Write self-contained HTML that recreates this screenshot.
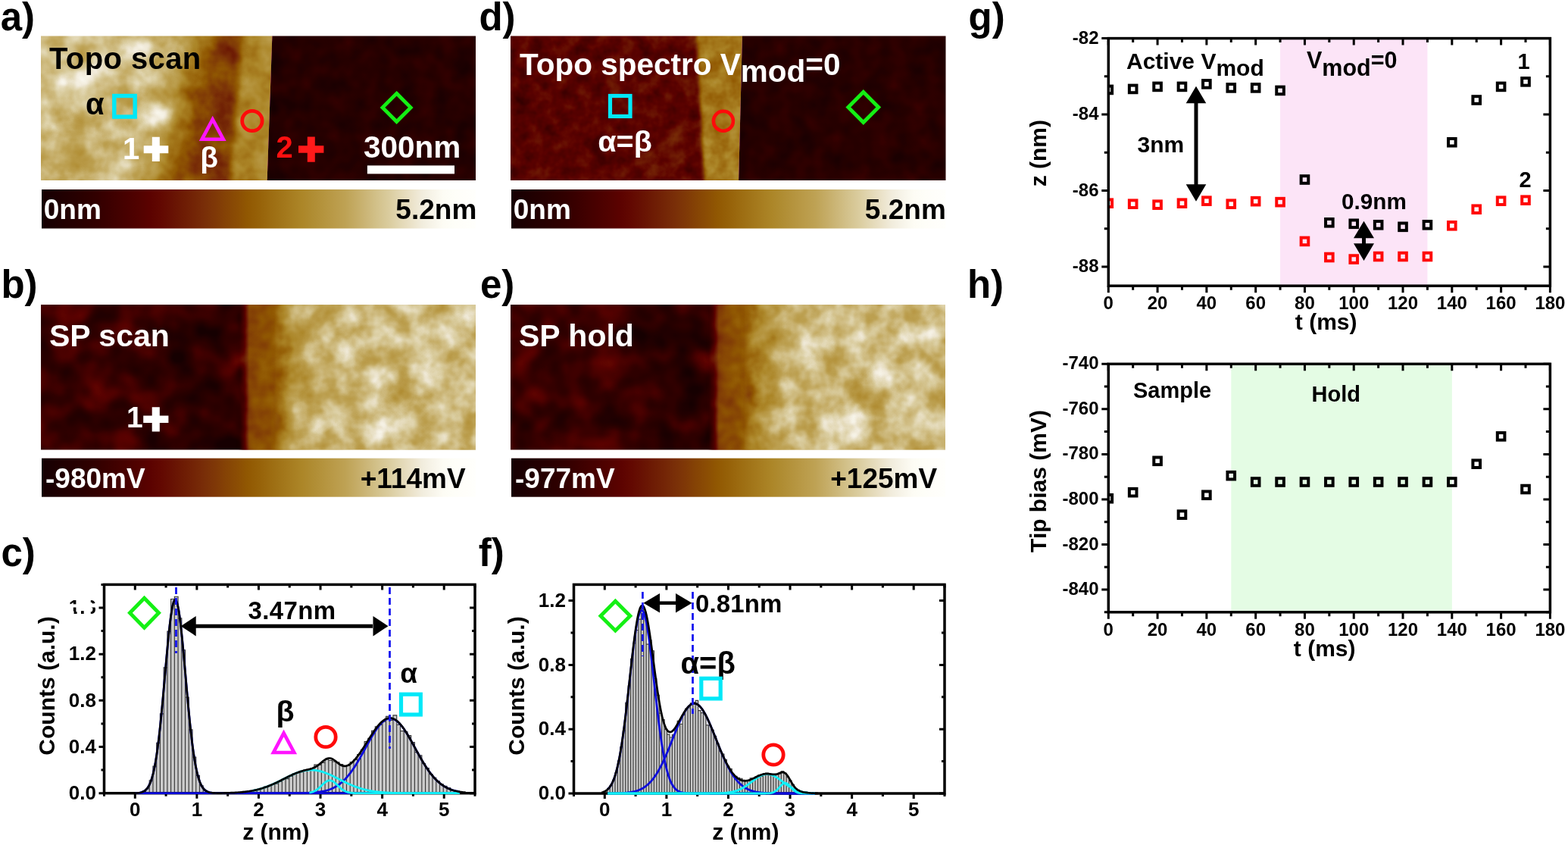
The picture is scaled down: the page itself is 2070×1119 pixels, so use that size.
<!DOCTYPE html>
<html><head><meta charset="utf-8"><title>Figure</title>
<style>html,body{margin:0;padding:0;background:#fff;width:2070px;height:1119px;overflow:hidden}
svg{position:absolute;left:0;top:0;display:block}</style></head>
<body><svg width="2070" height="1119" viewBox="0 0 2070 1119" font-family="'Liberation Sans', Arial, sans-serif" font-weight="bold">
<defs><linearGradient id="cbar" x1="0" y1="0" x2="1" y2="0"><stop offset="0.000" stop-color="#160002"/><stop offset="0.025" stop-color="#1b0002"/><stop offset="0.050" stop-color="#210001"/><stop offset="0.075" stop-color="#260001"/><stop offset="0.100" stop-color="#2c0000"/><stop offset="0.125" stop-color="#320000"/><stop offset="0.150" stop-color="#3a0000"/><stop offset="0.175" stop-color="#420100"/><stop offset="0.200" stop-color="#4a0100"/><stop offset="0.225" stop-color="#520200"/><stop offset="0.250" stop-color="#5b0200"/><stop offset="0.275" stop-color="#620801"/><stop offset="0.300" stop-color="#671103"/><stop offset="0.325" stop-color="#6d1b04"/><stop offset="0.350" stop-color="#732406"/><stop offset="0.375" stop-color="#792e08"/><stop offset="0.400" stop-color="#7f3807"/><stop offset="0.425" stop-color="#854305"/><stop offset="0.450" stop-color="#8b4d04"/><stop offset="0.475" stop-color="#915802"/><stop offset="0.500" stop-color="#966108"/><stop offset="0.525" stop-color="#9c6b10"/><stop offset="0.550" stop-color="#a17418"/><stop offset="0.575" stop-color="#a77d20"/><stop offset="0.600" stop-color="#ac8628"/><stop offset="0.625" stop-color="#b08d33"/><stop offset="0.650" stop-color="#b5943e"/><stop offset="0.675" stop-color="#ba9b49"/><stop offset="0.700" stop-color="#bea254"/><stop offset="0.725" stop-color="#c5ac66"/><stop offset="0.750" stop-color="#ccb779"/><stop offset="0.775" stop-color="#d3c28c"/><stop offset="0.800" stop-color="#dacc9e"/><stop offset="0.825" stop-color="#e2d7b3"/><stop offset="0.850" stop-color="#eae1c7"/><stop offset="0.875" stop-color="#f1ecdc"/><stop offset="0.900" stop-color="#f7f4e9"/><stop offset="0.925" stop-color="#fdfcf4"/><stop offset="0.950" stop-color="#fefef8"/><stop offset="0.975" stop-color="#fffefa"/><stop offset="1.000" stop-color="#fffffc"/></linearGradient>
<clipPath id="cla"><rect x="54.00" y="47.50" width="574.00" height="190.50"/></clipPath>
<linearGradient id="lg1" gradientUnits="userSpaceOnUse" x1="54.00" y1="142.75" x2="588.20" y2="288.57"><stop offset="0.0000" stop-color="#c1c1c1"/><stop offset="0.1916" stop-color="#c1c1c1"/><stop offset="0.2700" stop-color="#bbbbbb"/><stop offset="0.3049" stop-color="#a3a3a3"/><stop offset="0.3310" stop-color="#878787"/><stop offset="0.3571" stop-color="#737373"/><stop offset="0.3920" stop-color="#696969"/><stop offset="0.5226" stop-color="#666666"/></linearGradient>
<filter id="bl5_0" x="-30%" y="-30%" width="160%" height="160%" color-interpolation-filters="sRGB"><feGaussianBlur stdDeviation="5.0"/></filter>
<filter id="bl7_0" x="-30%" y="-30%" width="160%" height="160%" color-interpolation-filters="sRGB"><feGaussianBlur stdDeviation="7.0"/></filter>
<linearGradient id="lg2" gradientUnits="userSpaceOnUse" x1="54.00" y1="142.75" x2="627.23" y2="163.81"><stop offset="0.5192" stop-color="#0d0d0d"/><stop offset="0.5331" stop-color="#0d0d0d"/><stop offset="0.5540" stop-color="#131313"/><stop offset="1.0000" stop-color="#141414"/></linearGradient>
<g id="srca"><rect x="50.00" y="43.50" width="582.00" height="198.50" fill="#000"/><polygon points="50.00,43.50 632.00,43.50 632.00,242.00 50.00,242.00" fill="url(#lg1)"/><polygon points="320.00,43.50 384.00,43.50 377.00,242.00 305.00,242.00" fill="#9c9c9c" filter="url(#bl5_0)"/><g filter="url(#bl7_0)"><ellipse cx="99.0" cy="107.5" rx="26.0" ry="17.0" fill="#fff" fill-opacity="0.45"/><ellipse cx="139.0" cy="85.5" rx="20.0" ry="10.0" fill="#fff" fill-opacity="0.28"/><ellipse cx="212.0" cy="151.5" rx="15.0" ry="14.0" fill="#fff" fill-opacity="0.85"/><ellipse cx="179.0" cy="61.5" rx="28.0" ry="10.0" fill="#fff" fill-opacity="0.35"/><ellipse cx="62.0" cy="147.5" rx="7.0" ry="25.0" fill="#fff" fill-opacity="0.20"/><ellipse cx="154.0" cy="173.5" rx="18.0" ry="8.0" fill="#fff" fill-opacity="0.18"/><ellipse cx="114.0" cy="142.5" rx="14.0" ry="10.0" fill="#fff" fill-opacity="0.20"/><ellipse cx="94.0" cy="202.5" rx="45.0" ry="32.0" fill="#000" fill-opacity="0.07"/><ellipse cx="166.0" cy="139.5" rx="16.0" ry="22.0" fill="#000" fill-opacity="0.05"/><ellipse cx="294.0" cy="147.5" rx="12.0" ry="20.0" fill="#000" fill-opacity="0.10"/><ellipse cx="276.0" cy="225.5" rx="20.0" ry="14.0" fill="#000" fill-opacity="0.10"/></g><polygon points="359.50,43.50 632.00,43.50 632.00,242.00 352.50,242.00" fill="url(#lg2)"/></g>
<filter id="fa0" x="50.00" y="43.50" width="582.00" height="198.50" filterUnits="userSpaceOnUse" color-interpolation-filters="sRGB"><feTurbulence type="fractalNoise" baseFrequency="0.0350" numOctaves="3" seed="3" result="n"/><feColorMatrix in="n" type="matrix" values="1 0 0 0 0  1 0 0 0 0  1 0 0 0 0  0 0 0 0 1" result="g"/><feComposite in="SourceGraphic" in2="g" operator="arithmetic" k1="0" k2="1" k3="0.260" k4="-0.130" result="hh"/><feComponentTransfer in="hh"><feFuncR type="table" tableValues="0.0863 0.1075 0.1288 0.1500 0.1712 0.1947 0.2269 0.2591 0.2913 0.3235 0.3557 0.3824 0.4052 0.4281 0.4510 0.4739 0.4973 0.5208 0.5443 0.5678 0.5895 0.6108 0.6320 0.6533 0.6745 0.6922 0.7098 0.7275 0.7451 0.7725 0.8000 0.8275 0.8549 0.8855 0.9162 0.9468 0.9702 0.9918 0.9972 0.9986 1.0000"/><feFuncG type="table" tableValues="0.0000 0.0000 0.0000 0.0000 0.0000 0.0003 0.0017 0.0031 0.0045 0.0059 0.0073 0.0304 0.0680 0.1056 0.1431 0.1807 0.2212 0.2624 0.3035 0.3447 0.3817 0.4176 0.4536 0.4895 0.5255 0.5529 0.5804 0.6078 0.6353 0.6765 0.7176 0.7588 0.8000 0.8417 0.8833 0.9250 0.9569 0.9863 0.9944 0.9972 1.0000"/><feFuncB type="table" tableValues="0.0078 0.0062 0.0046 0.0029 0.0013 0.0000 0.0000 0.0000 0.0000 0.0000 0.0000 0.0039 0.0105 0.0170 0.0235 0.0301 0.0267 0.0208 0.0149 0.0090 0.0327 0.0637 0.0948 0.1258 0.1569 0.2000 0.2431 0.2863 0.3294 0.4020 0.4745 0.5471 0.6196 0.7005 0.7814 0.8623 0.9129 0.9561 0.9714 0.9798 0.9882"/><feFuncA type="linear" slope="0" intercept="1"/></feComponentTransfer></filter>
<clipPath id="ca0"><polygon points="50.00,43.50 359.50,43.50 352.50,242.00 50.00,242.00"/></clipPath>
<filter id="fa1" x="50.00" y="43.50" width="582.00" height="198.50" filterUnits="userSpaceOnUse" color-interpolation-filters="sRGB"><feTurbulence type="fractalNoise" baseFrequency="0.0400" numOctaves="2" seed="4" result="n"/><feColorMatrix in="n" type="matrix" values="1 0 0 0 0  1 0 0 0 0  1 0 0 0 0  0 0 0 0 1" result="g"/><feComposite in="SourceGraphic" in2="g" operator="arithmetic" k1="0" k2="1" k3="0.180" k4="-0.090" result="hh"/><feComponentTransfer in="hh"><feFuncR type="table" tableValues="0.0863 0.1075 0.1288 0.1500 0.1712 0.1947 0.2269 0.2591 0.2913 0.3235 0.3557 0.3824 0.4052 0.4281 0.4510 0.4739 0.4973 0.5208 0.5443 0.5678 0.5895 0.6108 0.6320 0.6533 0.6745 0.6922 0.7098 0.7275 0.7451 0.7725 0.8000 0.8275 0.8549 0.8855 0.9162 0.9468 0.9702 0.9918 0.9972 0.9986 1.0000"/><feFuncG type="table" tableValues="0.0000 0.0000 0.0000 0.0000 0.0000 0.0003 0.0017 0.0031 0.0045 0.0059 0.0073 0.0304 0.0680 0.1056 0.1431 0.1807 0.2212 0.2624 0.3035 0.3447 0.3817 0.4176 0.4536 0.4895 0.5255 0.5529 0.5804 0.6078 0.6353 0.6765 0.7176 0.7588 0.8000 0.8417 0.8833 0.9250 0.9569 0.9863 0.9944 0.9972 1.0000"/><feFuncB type="table" tableValues="0.0078 0.0062 0.0046 0.0029 0.0013 0.0000 0.0000 0.0000 0.0000 0.0000 0.0000 0.0039 0.0105 0.0170 0.0235 0.0301 0.0267 0.0208 0.0149 0.0090 0.0327 0.0637 0.0948 0.1258 0.1569 0.2000 0.2431 0.2863 0.3294 0.4020 0.4745 0.5471 0.6196 0.7005 0.7814 0.8623 0.9129 0.9561 0.9714 0.9798 0.9882"/><feFuncA type="linear" slope="0" intercept="1"/></feComponentTransfer></filter>
<clipPath id="ca1"><polygon points="359.50,43.50 632.00,43.50 632.00,242.00 352.50,242.00"/></clipPath>
<clipPath id="cld"><rect x="674.00" y="47.50" width="574.50" height="190.50"/></clipPath>
<linearGradient id="lg3" gradientUnits="userSpaceOnUse" x1="674.00" y1="142.75" x2="1248.50" y2="142.75"><stop offset="0.0000" stop-color="#3b3b3b"/><stop offset="0.1741" stop-color="#3e3e3e"/><stop offset="0.3481" stop-color="#404040"/><stop offset="0.4178" stop-color="#404040"/><stop offset="0.5239" stop-color="#404040"/></linearGradient>
<filter id="bl2_5" x="-30%" y="-30%" width="160%" height="160%" color-interpolation-filters="sRGB"><feGaussianBlur stdDeviation="2.5"/></filter>
<filter id="bl4_0" x="-30%" y="-30%" width="160%" height="160%" color-interpolation-filters="sRGB"><feGaussianBlur stdDeviation="4.0"/></filter>
<linearGradient id="lg4" gradientUnits="userSpaceOnUse" x1="674.00" y1="142.75" x2="1248.10" y2="157.82"><stop offset="0.5222" stop-color="#0d0d0d"/><stop offset="0.5361" stop-color="#0d0d0d"/><stop offset="0.5535" stop-color="#141414"/><stop offset="0.9991" stop-color="#161616"/></linearGradient>
<g id="srcd"><rect x="670.00" y="43.50" width="582.50" height="198.50" fill="#000"/><polygon points="670.00,43.50 1252.50,43.50 1252.50,242.00 670.00,242.00" fill="url(#lg3)"/><g filter="url(#bl7_0)"><ellipse cx="734.0" cy="87.5" rx="20.0" ry="15.0" fill="#000" fill-opacity="0.05"/><ellipse cx="834.0" cy="127.5" rx="25.0" ry="20.0" fill="#fff" fill-opacity="0.04"/><ellipse cx="784.0" cy="197.5" rx="25.0" ry="15.0" fill="#000" fill-opacity="0.04"/><ellipse cx="864.0" cy="212.5" rx="25.0" ry="20.0" fill="#fff" fill-opacity="0.08"/><ellipse cx="899.0" cy="187.5" rx="15.0" ry="25.0" fill="#fff" fill-opacity="0.08"/></g><polygon points="919.00,43.50 1004.00,43.50 1004.00,242.00 930.00,242.00" fill="#8e8e8e" filter="url(#bl2_5)"/><g filter="url(#bl4_0)"><ellipse cx="936.0" cy="217.5" rx="8.0" ry="12.0" fill="#fff" fill-opacity="0.12"/><ellipse cx="949.0" cy="87.5" rx="15.0" ry="20.0" fill="#000" fill-opacity="0.06"/></g><polygon points="980.00,43.50 1252.50,43.50 1252.50,242.00 975.00,242.00" fill="url(#lg4)"/></g>
<filter id="fd0" x="670.00" y="43.50" width="582.50" height="198.50" filterUnits="userSpaceOnUse" color-interpolation-filters="sRGB"><feTurbulence type="fractalNoise" baseFrequency="0.0500" numOctaves="3" seed="5" result="n"/><feColorMatrix in="n" type="matrix" values="1 0 0 0 0  1 0 0 0 0  1 0 0 0 0  0 0 0 0 1" result="g"/><feComposite in="SourceGraphic" in2="g" operator="arithmetic" k1="0" k2="1" k3="0.240" k4="-0.120" result="hh"/><feComponentTransfer in="hh"><feFuncR type="table" tableValues="0.0863 0.1075 0.1288 0.1500 0.1712 0.1947 0.2269 0.2591 0.2913 0.3235 0.3557 0.3824 0.4052 0.4281 0.4510 0.4739 0.4973 0.5208 0.5443 0.5678 0.5895 0.6108 0.6320 0.6533 0.6745 0.6922 0.7098 0.7275 0.7451 0.7725 0.8000 0.8275 0.8549 0.8855 0.9162 0.9468 0.9702 0.9918 0.9972 0.9986 1.0000"/><feFuncG type="table" tableValues="0.0000 0.0000 0.0000 0.0000 0.0000 0.0003 0.0017 0.0031 0.0045 0.0059 0.0073 0.0304 0.0680 0.1056 0.1431 0.1807 0.2212 0.2624 0.3035 0.3447 0.3817 0.4176 0.4536 0.4895 0.5255 0.5529 0.5804 0.6078 0.6353 0.6765 0.7176 0.7588 0.8000 0.8417 0.8833 0.9250 0.9569 0.9863 0.9944 0.9972 1.0000"/><feFuncB type="table" tableValues="0.0078 0.0062 0.0046 0.0029 0.0013 0.0000 0.0000 0.0000 0.0000 0.0000 0.0000 0.0039 0.0105 0.0170 0.0235 0.0301 0.0267 0.0208 0.0149 0.0090 0.0327 0.0637 0.0948 0.1258 0.1569 0.2000 0.2431 0.2863 0.3294 0.4020 0.4745 0.5471 0.6196 0.7005 0.7814 0.8623 0.9129 0.9561 0.9714 0.9798 0.9882"/><feFuncA type="linear" slope="0" intercept="1"/></feComponentTransfer></filter>
<clipPath id="cd0"><polygon points="670.00,43.50 980.00,43.50 975.00,242.00 670.00,242.00"/></clipPath>
<filter id="fd1" x="670.00" y="43.50" width="582.50" height="198.50" filterUnits="userSpaceOnUse" color-interpolation-filters="sRGB"><feTurbulence type="fractalNoise" baseFrequency="0.0400" numOctaves="2" seed="6" result="n"/><feColorMatrix in="n" type="matrix" values="1 0 0 0 0  1 0 0 0 0  1 0 0 0 0  0 0 0 0 1" result="g"/><feComposite in="SourceGraphic" in2="g" operator="arithmetic" k1="0" k2="1" k3="0.180" k4="-0.090" result="hh"/><feComponentTransfer in="hh"><feFuncR type="table" tableValues="0.0863 0.1075 0.1288 0.1500 0.1712 0.1947 0.2269 0.2591 0.2913 0.3235 0.3557 0.3824 0.4052 0.4281 0.4510 0.4739 0.4973 0.5208 0.5443 0.5678 0.5895 0.6108 0.6320 0.6533 0.6745 0.6922 0.7098 0.7275 0.7451 0.7725 0.8000 0.8275 0.8549 0.8855 0.9162 0.9468 0.9702 0.9918 0.9972 0.9986 1.0000"/><feFuncG type="table" tableValues="0.0000 0.0000 0.0000 0.0000 0.0000 0.0003 0.0017 0.0031 0.0045 0.0059 0.0073 0.0304 0.0680 0.1056 0.1431 0.1807 0.2212 0.2624 0.3035 0.3447 0.3817 0.4176 0.4536 0.4895 0.5255 0.5529 0.5804 0.6078 0.6353 0.6765 0.7176 0.7588 0.8000 0.8417 0.8833 0.9250 0.9569 0.9863 0.9944 0.9972 1.0000"/><feFuncB type="table" tableValues="0.0078 0.0062 0.0046 0.0029 0.0013 0.0000 0.0000 0.0000 0.0000 0.0000 0.0000 0.0039 0.0105 0.0170 0.0235 0.0301 0.0267 0.0208 0.0149 0.0090 0.0327 0.0637 0.0948 0.1258 0.1569 0.2000 0.2431 0.2863 0.3294 0.4020 0.4745 0.5471 0.6196 0.7005 0.7814 0.8623 0.9129 0.9561 0.9714 0.9798 0.9882"/><feFuncA type="linear" slope="0" intercept="1"/></feComponentTransfer></filter>
<clipPath id="cd1"><polygon points="980.00,43.50 1252.50,43.50 1252.50,242.00 975.00,242.00"/></clipPath>
<clipPath id="clb"><rect x="54.00" y="402.00" width="574.00" height="191.50"/></clipPath>
<linearGradient id="lg5" gradientUnits="userSpaceOnUse" x1="54.00" y1="497.75" x2="628.00" y2="497.75"><stop offset="0.0000" stop-color="#262626"/><stop offset="0.2091" stop-color="#262626"/><stop offset="0.2962" stop-color="#1f1f1f"/><stop offset="0.3484" stop-color="#171717"/><stop offset="0.4564" stop-color="#171717"/><stop offset="0.4669" stop-color="#333333"/><stop offset="0.4791" stop-color="#6b6b6b"/><stop offset="0.5052" stop-color="#737373"/><stop offset="0.5366" stop-color="#787878"/><stop offset="0.5575" stop-color="#8f8f8f"/><stop offset="0.5836" stop-color="#a8a8a8"/><stop offset="0.6307" stop-color="#b8b8b8"/><stop offset="0.6969" stop-color="#c1c1c1"/><stop offset="1.0000" stop-color="#c2c2c2"/></linearGradient>
<g id="srcb"><rect x="50.00" y="398.00" width="582.00" height="199.50" fill="#000"/><polygon points="50.00,398.00 632.00,398.00 632.00,597.50 50.00,597.50" fill="url(#lg5)"/><g filter="url(#bl7_0)"><ellipse cx="454.0" cy="457.0" rx="22.0" ry="12.0" fill="#fff" fill-opacity="0.35"/><ellipse cx="499.0" cy="562.0" rx="32.0" ry="15.0" fill="#fff" fill-opacity="0.40"/><ellipse cx="559.0" cy="492.0" rx="22.0" ry="15.0" fill="#fff" fill-opacity="0.30"/><ellipse cx="406.0" cy="552.0" rx="25.0" ry="15.0" fill="#fff" fill-opacity="0.25"/><ellipse cx="599.0" cy="442.0" rx="22.0" ry="15.0" fill="#fff" fill-opacity="0.25"/><ellipse cx="524.0" cy="522.0" rx="25.0" ry="18.0" fill="#000" fill-opacity="0.08"/><ellipse cx="384.0" cy="497.0" rx="20.0" ry="22.0" fill="#000" fill-opacity="0.08"/><ellipse cx="314.0" cy="474.0" rx="12.0" ry="10.0" fill="#fff" fill-opacity="0.25"/></g></g>
<filter id="fb0" x="50.00" y="398.00" width="582.00" height="199.50" filterUnits="userSpaceOnUse" color-interpolation-filters="sRGB"><feTurbulence type="fractalNoise" baseFrequency="0.0280" numOctaves="2" seed="11" result="n"/><feColorMatrix in="n" type="matrix" values="1 0 0 0 0  1 0 0 0 0  1 0 0 0 0  0 0 0 0 1" result="g"/><feComposite in="SourceGraphic" in2="g" operator="arithmetic" k1="0" k2="1" k3="0.360" k4="-0.180" result="hh"/><feComponentTransfer in="hh"><feFuncR type="table" tableValues="0.0863 0.1075 0.1288 0.1500 0.1712 0.1947 0.2269 0.2591 0.2913 0.3235 0.3557 0.3824 0.4052 0.4281 0.4510 0.4739 0.4973 0.5208 0.5443 0.5678 0.5895 0.6108 0.6320 0.6533 0.6745 0.6922 0.7098 0.7275 0.7451 0.7725 0.8000 0.8275 0.8549 0.8855 0.9162 0.9468 0.9702 0.9918 0.9972 0.9986 1.0000"/><feFuncG type="table" tableValues="0.0000 0.0000 0.0000 0.0000 0.0000 0.0003 0.0017 0.0031 0.0045 0.0059 0.0073 0.0304 0.0680 0.1056 0.1431 0.1807 0.2212 0.2624 0.3035 0.3447 0.3817 0.4176 0.4536 0.4895 0.5255 0.5529 0.5804 0.6078 0.6353 0.6765 0.7176 0.7588 0.8000 0.8417 0.8833 0.9250 0.9569 0.9863 0.9944 0.9972 1.0000"/><feFuncB type="table" tableValues="0.0078 0.0062 0.0046 0.0029 0.0013 0.0000 0.0000 0.0000 0.0000 0.0000 0.0000 0.0039 0.0105 0.0170 0.0235 0.0301 0.0267 0.0208 0.0149 0.0090 0.0327 0.0637 0.0948 0.1258 0.1569 0.2000 0.2431 0.2863 0.3294 0.4020 0.4745 0.5471 0.6196 0.7005 0.7814 0.8623 0.9129 0.9561 0.9714 0.9798 0.9882"/><feFuncA type="linear" slope="0" intercept="1"/></feComponentTransfer></filter>
<clipPath id="cb0"><polygon points="20.00,368.00 658.00,368.00 658.00,627.50 20.00,627.50"/></clipPath>
<filter id="fb1" x="50.00" y="398.00" width="582.00" height="199.50" filterUnits="userSpaceOnUse" color-interpolation-filters="sRGB"><feTurbulence type="fractalNoise" baseFrequency="0.0500" numOctaves="2" seed="13" result="n"/><feColorMatrix in="n" type="matrix" values="1 0 0 0 0  1 0 0 0 0  1 0 0 0 0  0 0 0 0 1" result="g"/><feComposite in="SourceGraphic" in2="g" operator="arithmetic" k1="0" k2="1" k3="0.140" k4="-0.070" result="hh"/><feComponentTransfer in="hh"><feFuncR type="table" tableValues="0.0863 0.1075 0.1288 0.1500 0.1712 0.1947 0.2269 0.2591 0.2913 0.3235 0.3557 0.3824 0.4052 0.4281 0.4510 0.4739 0.4973 0.5208 0.5443 0.5678 0.5895 0.6108 0.6320 0.6533 0.6745 0.6922 0.7098 0.7275 0.7451 0.7725 0.8000 0.8275 0.8549 0.8855 0.9162 0.9468 0.9702 0.9918 0.9972 0.9986 1.0000"/><feFuncG type="table" tableValues="0.0000 0.0000 0.0000 0.0000 0.0000 0.0003 0.0017 0.0031 0.0045 0.0059 0.0073 0.0304 0.0680 0.1056 0.1431 0.1807 0.2212 0.2624 0.3035 0.3447 0.3817 0.4176 0.4536 0.4895 0.5255 0.5529 0.5804 0.6078 0.6353 0.6765 0.7176 0.7588 0.8000 0.8417 0.8833 0.9250 0.9569 0.9863 0.9944 0.9972 1.0000"/><feFuncB type="table" tableValues="0.0078 0.0062 0.0046 0.0029 0.0013 0.0000 0.0000 0.0000 0.0000 0.0000 0.0000 0.0039 0.0105 0.0170 0.0235 0.0301 0.0267 0.0208 0.0149 0.0090 0.0327 0.0637 0.0948 0.1258 0.1569 0.2000 0.2431 0.2863 0.3294 0.4020 0.4745 0.5471 0.6196 0.7005 0.7814 0.8623 0.9129 0.9561 0.9714 0.9798 0.9882"/><feFuncA type="linear" slope="0" intercept="1"/></feComponentTransfer></filter>
<mask id="mb1" maskUnits="userSpaceOnUse" x="24.00" y="372.00" width="634.00" height="251.50"><polygon points="318.00,372.00 372.00,372.00 372.00,623.50 318.00,623.50" fill="#fff" filter="url(#bl2_5)"/></mask>
<filter id="fb2" x="50.00" y="398.00" width="582.00" height="199.50" filterUnits="userSpaceOnUse" color-interpolation-filters="sRGB"><feTurbulence type="fractalNoise" baseFrequency="0.0350" numOctaves="3" seed="12" result="n"/><feColorMatrix in="n" type="matrix" values="1 0 0 0 0  1 0 0 0 0  1 0 0 0 0  0 0 0 0 1" result="g"/><feComposite in="SourceGraphic" in2="g" operator="arithmetic" k1="0" k2="1" k3="0.320" k4="-0.160" result="hh"/><feComponentTransfer in="hh"><feFuncR type="table" tableValues="0.0863 0.1075 0.1288 0.1500 0.1712 0.1947 0.2269 0.2591 0.2913 0.3235 0.3557 0.3824 0.4052 0.4281 0.4510 0.4739 0.4973 0.5208 0.5443 0.5678 0.5895 0.6108 0.6320 0.6533 0.6745 0.6922 0.7098 0.7275 0.7451 0.7725 0.8000 0.8275 0.8549 0.8855 0.9162 0.9468 0.9702 0.9918 0.9972 0.9986 1.0000"/><feFuncG type="table" tableValues="0.0000 0.0000 0.0000 0.0000 0.0000 0.0003 0.0017 0.0031 0.0045 0.0059 0.0073 0.0304 0.0680 0.1056 0.1431 0.1807 0.2212 0.2624 0.3035 0.3447 0.3817 0.4176 0.4536 0.4895 0.5255 0.5529 0.5804 0.6078 0.6353 0.6765 0.7176 0.7588 0.8000 0.8417 0.8833 0.9250 0.9569 0.9863 0.9944 0.9972 1.0000"/><feFuncB type="table" tableValues="0.0078 0.0062 0.0046 0.0029 0.0013 0.0000 0.0000 0.0000 0.0000 0.0000 0.0000 0.0039 0.0105 0.0170 0.0235 0.0301 0.0267 0.0208 0.0149 0.0090 0.0327 0.0637 0.0948 0.1258 0.1569 0.2000 0.2431 0.2863 0.3294 0.4020 0.4745 0.5471 0.6196 0.7005 0.7814 0.8623 0.9129 0.9561 0.9714 0.9798 0.9882"/><feFuncA type="linear" slope="0" intercept="1"/></feComponentTransfer></filter>
<mask id="mb2" maskUnits="userSpaceOnUse" x="24.00" y="372.00" width="634.00" height="251.50"><polygon points="366.00,372.00 654.00,372.00 654.00,623.50 366.00,623.50" fill="#fff" filter="url(#bl4_0)"/></mask>
<clipPath id="cle"><rect x="674.00" y="402.00" width="574.00" height="191.50"/></clipPath>
<linearGradient id="lg6" gradientUnits="userSpaceOnUse" x1="674.00" y1="497.75" x2="1248.00" y2="497.75"><stop offset="0.0000" stop-color="#262626"/><stop offset="0.2091" stop-color="#262626"/><stop offset="0.2962" stop-color="#1f1f1f"/><stop offset="0.3484" stop-color="#171717"/><stop offset="0.4564" stop-color="#171717"/><stop offset="0.4669" stop-color="#333333"/><stop offset="0.4791" stop-color="#6b6b6b"/><stop offset="0.5052" stop-color="#737373"/><stop offset="0.5366" stop-color="#787878"/><stop offset="0.5575" stop-color="#8f8f8f"/><stop offset="0.5836" stop-color="#a8a8a8"/><stop offset="0.6307" stop-color="#b8b8b8"/><stop offset="0.6969" stop-color="#c1c1c1"/><stop offset="1.0000" stop-color="#c2c2c2"/></linearGradient>
<g id="srce"><rect x="670.00" y="398.00" width="582.00" height="199.50" fill="#000"/><polygon points="670.00,398.00 1252.00,398.00 1252.00,597.50 670.00,597.50" fill="url(#lg6)"/><g filter="url(#bl7_0)"><ellipse cx="1074.0" cy="457.0" rx="22.0" ry="12.0" fill="#fff" fill-opacity="0.35"/><ellipse cx="1119.0" cy="562.0" rx="32.0" ry="15.0" fill="#fff" fill-opacity="0.40"/><ellipse cx="1179.0" cy="492.0" rx="22.0" ry="15.0" fill="#fff" fill-opacity="0.30"/><ellipse cx="1026.0" cy="552.0" rx="25.0" ry="15.0" fill="#fff" fill-opacity="0.25"/><ellipse cx="1219.0" cy="442.0" rx="22.0" ry="15.0" fill="#fff" fill-opacity="0.25"/><ellipse cx="1144.0" cy="522.0" rx="25.0" ry="18.0" fill="#000" fill-opacity="0.08"/><ellipse cx="1004.0" cy="497.0" rx="20.0" ry="22.0" fill="#000" fill-opacity="0.08"/><ellipse cx="934.0" cy="474.0" rx="12.0" ry="10.0" fill="#fff" fill-opacity="0.25"/></g></g>
<filter id="fe0" x="670.00" y="398.00" width="582.00" height="199.50" filterUnits="userSpaceOnUse" color-interpolation-filters="sRGB"><feTurbulence type="fractalNoise" baseFrequency="0.0280" numOctaves="2" seed="21" result="n"/><feColorMatrix in="n" type="matrix" values="1 0 0 0 0  1 0 0 0 0  1 0 0 0 0  0 0 0 0 1" result="g"/><feComposite in="SourceGraphic" in2="g" operator="arithmetic" k1="0" k2="1" k3="0.360" k4="-0.180" result="hh"/><feComponentTransfer in="hh"><feFuncR type="table" tableValues="0.0863 0.1075 0.1288 0.1500 0.1712 0.1947 0.2269 0.2591 0.2913 0.3235 0.3557 0.3824 0.4052 0.4281 0.4510 0.4739 0.4973 0.5208 0.5443 0.5678 0.5895 0.6108 0.6320 0.6533 0.6745 0.6922 0.7098 0.7275 0.7451 0.7725 0.8000 0.8275 0.8549 0.8855 0.9162 0.9468 0.9702 0.9918 0.9972 0.9986 1.0000"/><feFuncG type="table" tableValues="0.0000 0.0000 0.0000 0.0000 0.0000 0.0003 0.0017 0.0031 0.0045 0.0059 0.0073 0.0304 0.0680 0.1056 0.1431 0.1807 0.2212 0.2624 0.3035 0.3447 0.3817 0.4176 0.4536 0.4895 0.5255 0.5529 0.5804 0.6078 0.6353 0.6765 0.7176 0.7588 0.8000 0.8417 0.8833 0.9250 0.9569 0.9863 0.9944 0.9972 1.0000"/><feFuncB type="table" tableValues="0.0078 0.0062 0.0046 0.0029 0.0013 0.0000 0.0000 0.0000 0.0000 0.0000 0.0000 0.0039 0.0105 0.0170 0.0235 0.0301 0.0267 0.0208 0.0149 0.0090 0.0327 0.0637 0.0948 0.1258 0.1569 0.2000 0.2431 0.2863 0.3294 0.4020 0.4745 0.5471 0.6196 0.7005 0.7814 0.8623 0.9129 0.9561 0.9714 0.9798 0.9882"/><feFuncA type="linear" slope="0" intercept="1"/></feComponentTransfer></filter>
<clipPath id="ce0"><polygon points="640.00,368.00 1278.00,368.00 1278.00,627.50 640.00,627.50"/></clipPath>
<filter id="fe1" x="670.00" y="398.00" width="582.00" height="199.50" filterUnits="userSpaceOnUse" color-interpolation-filters="sRGB"><feTurbulence type="fractalNoise" baseFrequency="0.0500" numOctaves="2" seed="23" result="n"/><feColorMatrix in="n" type="matrix" values="1 0 0 0 0  1 0 0 0 0  1 0 0 0 0  0 0 0 0 1" result="g"/><feComposite in="SourceGraphic" in2="g" operator="arithmetic" k1="0" k2="1" k3="0.140" k4="-0.070" result="hh"/><feComponentTransfer in="hh"><feFuncR type="table" tableValues="0.0863 0.1075 0.1288 0.1500 0.1712 0.1947 0.2269 0.2591 0.2913 0.3235 0.3557 0.3824 0.4052 0.4281 0.4510 0.4739 0.4973 0.5208 0.5443 0.5678 0.5895 0.6108 0.6320 0.6533 0.6745 0.6922 0.7098 0.7275 0.7451 0.7725 0.8000 0.8275 0.8549 0.8855 0.9162 0.9468 0.9702 0.9918 0.9972 0.9986 1.0000"/><feFuncG type="table" tableValues="0.0000 0.0000 0.0000 0.0000 0.0000 0.0003 0.0017 0.0031 0.0045 0.0059 0.0073 0.0304 0.0680 0.1056 0.1431 0.1807 0.2212 0.2624 0.3035 0.3447 0.3817 0.4176 0.4536 0.4895 0.5255 0.5529 0.5804 0.6078 0.6353 0.6765 0.7176 0.7588 0.8000 0.8417 0.8833 0.9250 0.9569 0.9863 0.9944 0.9972 1.0000"/><feFuncB type="table" tableValues="0.0078 0.0062 0.0046 0.0029 0.0013 0.0000 0.0000 0.0000 0.0000 0.0000 0.0000 0.0039 0.0105 0.0170 0.0235 0.0301 0.0267 0.0208 0.0149 0.0090 0.0327 0.0637 0.0948 0.1258 0.1569 0.2000 0.2431 0.2863 0.3294 0.4020 0.4745 0.5471 0.6196 0.7005 0.7814 0.8623 0.9129 0.9561 0.9714 0.9798 0.9882"/><feFuncA type="linear" slope="0" intercept="1"/></feComponentTransfer></filter>
<mask id="me1" maskUnits="userSpaceOnUse" x="644.00" y="372.00" width="634.00" height="251.50"><polygon points="938.00,372.00 992.00,372.00 992.00,623.50 938.00,623.50" fill="#fff" filter="url(#bl2_5)"/></mask>
<filter id="fe2" x="670.00" y="398.00" width="582.00" height="199.50" filterUnits="userSpaceOnUse" color-interpolation-filters="sRGB"><feTurbulence type="fractalNoise" baseFrequency="0.0350" numOctaves="3" seed="22" result="n"/><feColorMatrix in="n" type="matrix" values="1 0 0 0 0  1 0 0 0 0  1 0 0 0 0  0 0 0 0 1" result="g"/><feComposite in="SourceGraphic" in2="g" operator="arithmetic" k1="0" k2="1" k3="0.320" k4="-0.160" result="hh"/><feComponentTransfer in="hh"><feFuncR type="table" tableValues="0.0863 0.1075 0.1288 0.1500 0.1712 0.1947 0.2269 0.2591 0.2913 0.3235 0.3557 0.3824 0.4052 0.4281 0.4510 0.4739 0.4973 0.5208 0.5443 0.5678 0.5895 0.6108 0.6320 0.6533 0.6745 0.6922 0.7098 0.7275 0.7451 0.7725 0.8000 0.8275 0.8549 0.8855 0.9162 0.9468 0.9702 0.9918 0.9972 0.9986 1.0000"/><feFuncG type="table" tableValues="0.0000 0.0000 0.0000 0.0000 0.0000 0.0003 0.0017 0.0031 0.0045 0.0059 0.0073 0.0304 0.0680 0.1056 0.1431 0.1807 0.2212 0.2624 0.3035 0.3447 0.3817 0.4176 0.4536 0.4895 0.5255 0.5529 0.5804 0.6078 0.6353 0.6765 0.7176 0.7588 0.8000 0.8417 0.8833 0.9250 0.9569 0.9863 0.9944 0.9972 1.0000"/><feFuncB type="table" tableValues="0.0078 0.0062 0.0046 0.0029 0.0013 0.0000 0.0000 0.0000 0.0000 0.0000 0.0000 0.0039 0.0105 0.0170 0.0235 0.0301 0.0267 0.0208 0.0149 0.0090 0.0327 0.0637 0.0948 0.1258 0.1569 0.2000 0.2431 0.2863 0.3294 0.4020 0.4745 0.5471 0.6196 0.7005 0.7814 0.8623 0.9129 0.9561 0.9714 0.9798 0.9882"/><feFuncA type="linear" slope="0" intercept="1"/></feComponentTransfer></filter>
<mask id="me2" maskUnits="userSpaceOnUse" x="644.00" y="372.00" width="634.00" height="251.50"><polygon points="986.00,372.00 1274.00,372.00 1274.00,623.50 986.00,623.50" fill="#fff" filter="url(#bl4_0)"/></mask>
<clipPath id="cg"><rect x="1463.30" y="0" width="700" height="1119"/></clipPath></defs>
<text x="0.70" y="40.30" font-size="51" fill="#000">a)</text>
<text x="632.40" y="40.30" font-size="51" fill="#000">d)</text>
<text x="1278.60" y="40.30" font-size="51" fill="#000">g)</text>
<text x="1.40" y="392.60" font-size="51" fill="#000">b)</text>
<text x="634.00" y="392.60" font-size="51" fill="#000">e)</text>
<text x="1276.90" y="392.60" font-size="51" fill="#000">h)</text>
<text x="1.45" y="747.00" font-size="51" fill="#000">c)</text>
<text x="631.80" y="747.00" font-size="51" fill="#000">f)</text>
<g clip-path="url(#cla)">
<g clip-path="url(#ca0)"><use href="#srca" filter="url(#fa0)"/></g>
<g clip-path="url(#ca1)"><use href="#srca" filter="url(#fa1)"/></g>
</g>
<g clip-path="url(#cld)">
<g clip-path="url(#cd0)"><use href="#srcd" filter="url(#fd0)"/></g>
<g clip-path="url(#cd1)"><use href="#srcd" filter="url(#fd1)"/></g>
</g>
<g clip-path="url(#clb)">
<g clip-path="url(#cb0)"><use href="#srcb" filter="url(#fb0)"/></g>
<use href="#srcb" filter="url(#fb1)" mask="url(#mb1)"/>
<use href="#srcb" filter="url(#fb2)" mask="url(#mb2)"/>
</g>
<g clip-path="url(#cle)">
<g clip-path="url(#ce0)"><use href="#srce" filter="url(#fe0)"/></g>
<use href="#srce" filter="url(#fe1)" mask="url(#me1)"/>
<use href="#srce" filter="url(#fe2)" mask="url(#me2)"/>
</g>
<rect x="55.00" y="250.00" width="573.00" height="51.50" fill="url(#cbar)"/>
<text x="57.80" y="289.00" font-size="37.0" fill="#fff">0nm</text>
<text x="629.30" y="289.00" font-size="37.0" fill="#000" text-anchor="end">5.2nm</text>
<rect x="675.00" y="250.00" width="573.50" height="51.50" fill="url(#cbar)"/>
<text x="677.80" y="289.00" font-size="37.0" fill="#fff">0nm</text>
<text x="1248.80" y="289.00" font-size="37.0" fill="#000" text-anchor="end">5.2nm</text>
<rect x="55.00" y="604.70" width="573.00" height="51.00" fill="url(#cbar)"/>
<text x="60.00" y="644.00" font-size="37.0" fill="#fff">-980mV</text>
<text x="614.60" y="644.00" font-size="37.0" fill="#000" text-anchor="end">+114mV</text>
<rect x="675.00" y="604.70" width="573.00" height="51.00" fill="url(#cbar)"/>
<text x="680.00" y="644.00" font-size="37.0" fill="#fff">-977mV</text>
<text x="1237.20" y="644.00" font-size="37.0" fill="#000" text-anchor="end">+125mV</text>
<text x="65" y="90.7" font-size="40" letter-spacing="0.4" fill="#000">Topo scan</text>
<text x="113" y="151" font-size="40" fill="#000">α</text>
<rect x="150.8" y="126.5" width="27.4" height="27.6" fill="none" stroke="#00e8f8" stroke-width="5.4"/>
<text x="162" y="209.8" font-size="40" fill="#fff">1</text>
<path d="M189.7 192.2h32.6v10h-32.6z M200.8 180.8h10v32.2h-10z" fill="#fff"/>
<path d="M280.7 157.5 L266.6 183.8 L294.8 183.8 Z" fill="none" stroke="#ff14ff" stroke-width="4.6"/>
<text x="264.3" y="221" font-size="39" fill="#fff">β</text>
<circle cx="332.9" cy="159.5" r="13.2" fill="none" stroke="#ff0a0a" stroke-width="4.8"/>
<text x="364.5" y="208.3" font-size="40" fill="#ff1010">2</text>
<path d="M394 192.2h33.4v9.6h-33.4z M405.8 180.6h10v33.1h-10z" fill="#ff1a1a"/>
<path d="M523.6 123.3 L542.2 141.9 L523.6 160.5 L505 141.9 Z" fill="none" stroke="#14f014" stroke-width="4.8"/>
<text x="480" y="207.8" font-size="40.5" fill="#fff">300nm</text>
<rect x="484.9" y="218.4" width="115.1" height="11" fill="#fff"/>
<text x="686" y="98.5" font-size="40.5" fill="#fff">Topo spectro V<tspan dy="9.2">mod</tspan><tspan dy="-9.2">=0</tspan></text>
<rect x="805.5" y="126.5" width="26.5" height="27" fill="none" stroke="#00e8f8" stroke-width="5.2"/>
<text x="789.3" y="200.3" font-size="39.5" fill="#fff">α=β</text>
<circle cx="954.9" cy="159.8" r="13" fill="none" stroke="#ff0a0a" stroke-width="4.6"/>
<path d="M1139.8 121.5 L1159.8 141.5 L1139.8 161.5 L1119.8 141.5 Z" fill="none" stroke="#14f014" stroke-width="4.8"/>
<text x="65" y="457.4" font-size="41" fill="#fff">SP scan</text>
<text x="167" y="564" font-size="39" fill="#fff">1</text>
<path d="M189.2 548.4h33.2v9.6h-33.2z M200.7 537.2h10.1v32.4h-10.1z" fill="#fff"/>
<text x="685" y="457.4" font-size="41" fill="#fff">SP hold</text>
<path d="M178.29 1046.70V1045.55H183.02V1046.70M187.76 1046.70V1044.17H192.49V1046.70M192.49 1046.70V1040.80H197.22V1046.70M197.22 1046.70V1029.72H201.95V1046.70M201.95 1046.70V1011.11H206.68V1046.70M206.68 1046.70V980.26H211.41V1046.70M211.41 1046.70V941.85H216.15V1046.70M216.15 1046.70V880.85H220.88V1046.70M220.88 1046.70V833.15H225.61V1046.70M225.61 1046.70V790.53H230.34V1046.70M230.34 1046.70V787.28H235.07V1046.70M235.07 1046.70V815.70H239.81V1046.70M239.81 1046.70V857.94H244.54V1046.70M244.54 1046.70V919.98H249.27V1046.70M249.27 1046.70V962.83H254.00V1046.70M254.00 1046.70V999.00H258.73V1046.70M258.73 1046.70V1023.41H263.46V1046.70M263.46 1046.70V1036.88H268.20V1046.70M268.20 1046.70V1043.05H272.93V1046.70M272.93 1046.70V1045.24H277.66V1046.70M277.66 1046.70V1045.83H282.39V1046.70M296.59 1046.70V1045.64H301.32V1046.70M306.05 1046.70V1046.14H310.78V1046.70M310.78 1046.70V1045.70H315.51V1046.70M315.51 1046.70V1046.06H320.25V1046.70M320.25 1046.70V1044.29H324.98V1046.70M324.98 1046.70V1045.33H329.71V1046.70M329.71 1046.70V1043.28H334.44V1046.70M334.44 1046.70V1043.03H339.17V1046.70M339.17 1046.70V1041.85H343.91V1046.70M343.91 1046.70V1040.29H348.64V1046.70M348.64 1046.70V1037.98H353.37V1046.70M353.37 1046.70V1036.49H358.10V1046.70M358.10 1046.70V1034.84H362.83V1046.70M362.83 1046.70V1034.13H367.57V1046.70M367.57 1046.70V1031.06H372.30V1046.70M372.30 1046.70V1028.07H377.03V1046.70M377.03 1046.70V1027.64H381.76V1046.70M381.76 1046.70V1024.54H386.49V1046.70M386.49 1046.70V1020.69H391.22V1046.70M391.22 1046.70V1019.39H395.96V1046.70M395.96 1046.70V1018.63H400.69V1046.70M400.69 1046.70V1016.00H405.42V1046.70M405.42 1046.70V1015.71H410.15V1046.70M410.15 1046.70V1015.46H414.88V1046.70M414.88 1046.70V1009.12H419.62V1046.70M419.62 1046.70V1009.54H424.35V1046.70M424.35 1046.70V1006.38H429.08V1046.70M429.08 1046.70V1002.10H433.81V1046.70M433.81 1046.70V1003.46H438.54V1046.70M438.54 1046.70V1005.03H443.27V1046.70M443.27 1046.70V1005.93H448.01V1046.70M448.01 1046.70V1008.67H452.74V1046.70M452.74 1046.70V1010.69H457.47V1046.70M457.47 1046.70V1010.41H462.20V1046.70M462.20 1046.70V1005.62H466.93V1046.70M466.93 1046.70V1002.36H471.67V1046.70M471.67 1046.70V995.47H476.40V1046.70M476.40 1046.70V989.34H481.13V1046.70M481.13 1046.70V978.54H485.86V1046.70M485.86 1046.70V974.43H490.59V1046.70M490.59 1046.70V964.36H495.32V1046.70M495.32 1046.70V958.71H500.06V1046.70M500.06 1046.70V956.44H504.79V1046.70M504.79 1046.70V952.07H509.52V1046.70M509.52 1046.70V945.39H514.25V1046.70M514.25 1046.70V950.43H518.98V1046.70M518.98 1046.70V943.92H523.72V1046.70M523.72 1046.70V956.34H528.45V1046.70M528.45 1046.70V964.59H533.18V1046.70M533.18 1046.70V965.59H537.91V1046.70M537.91 1046.70V970.63H542.64V1046.70M542.64 1046.70V979.55H547.37V1046.70M547.37 1046.70V992.61H552.11V1046.70M552.11 1046.70V996.81H556.84V1046.70M556.84 1046.70V1007.50H561.57V1046.70M561.57 1046.70V1013.48H566.30V1046.70M566.30 1046.70V1021.59H571.03V1046.70M571.03 1046.70V1026.41H575.77V1046.70M575.77 1046.70V1030.85H580.50V1046.70M580.50 1046.70V1034.74H585.23V1046.70M585.23 1046.70V1037.41H589.96V1046.70M589.96 1046.70V1039.55H594.69V1046.70M594.69 1046.70V1043.13H599.42V1046.70M599.42 1046.70V1043.72H604.16V1046.70M604.16 1046.70V1044.85H608.89V1046.70" fill="#cbcbcb" stroke="#383838" stroke-width="1.15"/>
<rect x="137.50" y="771.40" width="489.50" height="275.30" fill="none" stroke="#000" stroke-width="3.5"/>
<path d="M178.29 1046.70v7.00M178.29 771.40v7.00M259.88 1046.70v7.00M259.88 771.40v7.00M341.46 1046.70v7.00M341.46 771.40v7.00M423.04 1046.70v7.00M423.04 771.40v7.00M504.62 1046.70v7.00M504.62 771.40v7.00M586.21 1046.70v7.00M586.21 771.40v7.00M137.50 1046.70v4.00M137.50 771.40v4.00M219.08 1046.70v4.00M219.08 771.40v4.00M300.67 1046.70v4.00M300.67 771.40v4.00M382.25 1046.70v4.00M382.25 771.40v4.00M463.83 1046.70v4.00M463.83 771.40v4.00M545.42 1046.70v4.00M545.42 771.40v4.00M627.00 1046.70v4.00M627.00 771.40v4.00" stroke="#000" stroke-width="3" fill="none"/>
<text x="178.29" y="1077.00" font-size="26" text-anchor="middle">0</text>
<text x="259.88" y="1077.00" font-size="26" text-anchor="middle">1</text>
<text x="341.46" y="1077.00" font-size="26" text-anchor="middle">2</text>
<text x="423.04" y="1077.00" font-size="26" text-anchor="middle">3</text>
<text x="504.62" y="1077.00" font-size="26" text-anchor="middle">4</text>
<text x="586.21" y="1077.00" font-size="26" text-anchor="middle">5</text>
<path d="M137.50 1046.70h-7.00M627.00 1046.70h-7.00M137.50 985.52h-7.00M627.00 985.52h-7.00M137.50 924.34h-7.00M627.00 924.34h-7.00M137.50 863.17h-7.00M627.00 863.17h-7.00M137.50 801.99h-7.00M627.00 801.99h-7.00M137.50 1016.11h-4.00M627.00 1016.11h-4.00M137.50 954.93h-4.00M627.00 954.93h-4.00M137.50 893.76h-4.00M627.00 893.76h-4.00M137.50 832.58h-4.00M627.00 832.58h-4.00M137.50 771.40h-4.00M627.00 771.40h-4.00" stroke="#000" stroke-width="3" fill="none"/>
<text x="127.00" y="1054.90" font-size="26" text-anchor="end">0.0</text>
<text x="127.00" y="993.72" font-size="26" text-anchor="end">0.4</text>
<text x="127.00" y="932.54" font-size="26" text-anchor="end">0.8</text>
<text x="127.00" y="871.37" font-size="26" text-anchor="end">1.2</text>
<text x="127.00" y="810.19" font-size="26" text-anchor="end">1.6</text>
<polyline points="178.29,1046.57 179.72,1046.50 181.15,1046.41 182.57,1046.28 184.00,1046.09 185.43,1045.82 186.86,1045.46 188.29,1044.96 189.71,1044.29 191.14,1043.40 192.57,1042.23 194.00,1040.71 195.42,1038.76 196.85,1036.29 198.28,1033.21 199.71,1029.40 201.13,1024.76 202.56,1019.17 203.99,1012.55 205.42,1004.79 206.85,995.83 208.27,985.62 209.70,974.18 211.13,961.53 212.56,947.76 213.98,933.03 215.41,917.52 216.84,901.51 218.27,885.29 219.70,869.22 221.12,853.68 222.55,839.08 223.98,825.81 225.41,814.25 226.83,804.77 228.26,797.64 229.69,793.11 231.12,791.31 232.54,792.31 233.97,796.07 235.40,802.48 236.83,811.32 238.26,822.31 239.68,835.13 241.11,849.40 242.54,864.71 243.97,880.67 245.39,896.88 246.82,912.99 248.25,928.67 249.68,943.64 251.10,957.70 252.53,970.68 253.96,982.48 255.39,993.04 256.82,1002.35 258.24,1010.45 259.67,1017.39 261.10,1023.26 262.53,1028.16 263.95,1032.20 265.38,1035.48 266.81,1038.11 268.24,1040.20 269.66,1041.83 271.09,1043.10 272.52,1044.06 273.95,1044.79 275.38,1045.33 276.80,1045.73 278.23,1046.02 279.66,1046.23 281.09,1046.38 282.51,1046.48 283.94,1046.55 285.37,1046.60 286.80,1046.64 288.23,1046.66 289.65,1046.67 291.08,1046.68 292.51,1046.69 293.94,1046.69 295.36,1046.70 296.79,1046.70 298.22,1046.70 299.65,1046.70 301.07,1046.70 302.50,1046.70 303.93,1046.70 305.36,1046.70 306.79,1046.70 308.21,1046.70 309.64,1046.70 311.07,1046.70 312.50,1046.70 313.92,1046.70 315.35,1046.70 316.78,1046.70 318.21,1046.70 319.63,1046.70 321.06,1046.70 322.49,1046.70 323.92,1046.70 325.35,1046.70 326.77,1046.70 328.20,1046.70 329.63,1046.70 331.06,1046.70 332.48,1046.70 333.91,1046.70 335.34,1046.70 336.77,1046.70 338.20,1046.70 339.62,1046.70 341.05,1046.70 342.48,1046.70 343.91,1046.70 345.33,1046.70 346.76,1046.70 348.19,1046.70 349.62,1046.70 351.04,1046.70 352.47,1046.70 353.90,1046.70 355.33,1046.70 356.76,1046.70 358.18,1046.70 359.61,1046.70 361.04,1046.70 362.47,1046.70 363.89,1046.70 365.32,1046.70 366.75,1046.70 368.18,1046.70 369.60,1046.70 371.03,1046.70 372.46,1046.70 373.89,1046.70 375.32,1046.70 376.74,1046.70 378.17,1046.70 379.60,1046.70 381.03,1046.70 382.45,1046.70 383.88,1046.70 385.31,1046.70 386.74,1046.70 388.16,1046.70 389.59,1046.70 391.02,1046.70 392.45,1046.70 393.88,1046.70 395.30,1046.70 396.73,1046.70 398.16,1046.70 399.59,1046.70 401.01,1046.70 402.44,1046.70 403.87,1046.70 405.30,1046.70 406.72,1046.70 408.15,1046.70 409.58,1046.70 411.01,1046.70 412.44,1046.70 413.86,1046.70 415.29,1046.70 416.72,1046.70 418.15,1046.70 419.57,1046.70 421.00,1046.70 422.43,1046.70 423.86,1046.70 425.29,1046.70 426.71,1046.70 428.14,1046.70 429.57,1046.70 431.00,1046.70 432.42,1046.70 433.85,1046.70 435.28,1046.70 436.71,1046.70 438.13,1046.70 439.56,1046.70 440.99,1046.70 442.42,1046.70 443.85,1046.70 445.27,1046.70 446.70,1046.70 448.13,1046.70 449.56,1046.70 450.98,1046.70 452.41,1046.70 453.84,1046.70 455.27,1046.70 456.69,1046.70 458.12,1046.70 459.55,1046.70 460.98,1046.70 462.41,1046.70 463.83,1046.70 465.26,1046.70 466.69,1046.70 468.12,1046.70 469.54,1046.70 470.97,1046.70 472.40,1046.70 473.83,1046.70 475.26,1046.70 476.68,1046.70 478.11,1046.70 479.54,1046.70 480.97,1046.70 482.39,1046.70 483.82,1046.70 485.25,1046.70 486.68,1046.70 488.10,1046.70 489.53,1046.70 490.96,1046.70 492.39,1046.70 493.82,1046.70 495.24,1046.70 496.67,1046.70 498.10,1046.70 499.53,1046.70 500.95,1046.70 502.38,1046.70 503.81,1046.70 505.24,1046.70 506.66,1046.70 508.09,1046.70 509.52,1046.70 510.95,1046.70 512.38,1046.70 513.80,1046.70 515.23,1046.70 516.66,1046.70 518.09,1046.70 519.51,1046.70 520.94,1046.70 522.37,1046.70 523.80,1046.70 525.22,1046.70 526.65,1046.70 528.08,1046.70 529.51,1046.70 530.94,1046.70 532.36,1046.70 533.79,1046.70 535.22,1046.70 536.65,1046.70 538.07,1046.70 539.50,1046.70 540.93,1046.70 542.36,1046.70 543.79,1046.70 545.21,1046.70 546.64,1046.70 548.07,1046.70 549.50,1046.70 550.92,1046.70 552.35,1046.70 553.78,1046.70 555.21,1046.70 556.63,1046.70 558.06,1046.70 559.49,1046.70 560.92,1046.70 562.35,1046.70 563.77,1046.70 565.20,1046.70 566.63,1046.70 568.06,1046.70 569.48,1046.70 570.91,1046.70 572.34,1046.70 573.77,1046.70 575.19,1046.70 576.62,1046.70 578.05,1046.70 579.48,1046.70 580.91,1046.70 582.33,1046.70 583.76,1046.70 585.19,1046.70 586.62,1046.70 588.04,1046.70 589.47,1046.70 590.90,1046.70 592.33,1046.70 593.75,1046.70 595.18,1046.70 596.61,1046.70 598.04,1046.70 599.47,1046.70 600.89,1046.70 602.32,1046.70 603.75,1046.70 605.18,1046.70 606.60,1046.70" fill="none" stroke="#0c0cdc" stroke-width="2.8" stroke-linejoin="round"/>
<polyline points="178.29,1046.70 179.72,1046.70 181.15,1046.70 182.57,1046.70 184.00,1046.70 185.43,1046.70 186.86,1046.70 188.29,1046.70 189.71,1046.70 191.14,1046.70 192.57,1046.70 194.00,1046.70 195.42,1046.70 196.85,1046.70 198.28,1046.70 199.71,1046.70 201.13,1046.70 202.56,1046.70 203.99,1046.70 205.42,1046.70 206.85,1046.70 208.27,1046.70 209.70,1046.70 211.13,1046.70 212.56,1046.70 213.98,1046.70 215.41,1046.70 216.84,1046.70 218.27,1046.70 219.70,1046.70 221.12,1046.70 222.55,1046.70 223.98,1046.70 225.41,1046.70 226.83,1046.70 228.26,1046.70 229.69,1046.70 231.12,1046.70 232.54,1046.70 233.97,1046.70 235.40,1046.70 236.83,1046.70 238.26,1046.70 239.68,1046.70 241.11,1046.70 242.54,1046.70 243.97,1046.70 245.39,1046.70 246.82,1046.70 248.25,1046.70 249.68,1046.70 251.10,1046.70 252.53,1046.70 253.96,1046.70 255.39,1046.70 256.82,1046.70 258.24,1046.70 259.67,1046.70 261.10,1046.70 262.53,1046.70 263.95,1046.70 265.38,1046.70 266.81,1046.70 268.24,1046.70 269.66,1046.70 271.09,1046.70 272.52,1046.70 273.95,1046.70 275.38,1046.70 276.80,1046.70 278.23,1046.70 279.66,1046.70 281.09,1046.70 282.51,1046.70 283.94,1046.70 285.37,1046.70 286.80,1046.70 288.23,1046.70 289.65,1046.70 291.08,1046.70 292.51,1046.70 293.94,1046.70 295.36,1046.70 296.79,1046.70 298.22,1046.70 299.65,1046.70 301.07,1046.70 302.50,1046.70 303.93,1046.70 305.36,1046.70 306.79,1046.70 308.21,1046.70 309.64,1046.70 311.07,1046.70 312.50,1046.70 313.92,1046.70 315.35,1046.70 316.78,1046.70 318.21,1046.70 319.63,1046.70 321.06,1046.70 322.49,1046.70 323.92,1046.70 325.35,1046.70 326.77,1046.70 328.20,1046.70 329.63,1046.70 331.06,1046.70 332.48,1046.70 333.91,1046.70 335.34,1046.70 336.77,1046.70 338.20,1046.70 339.62,1046.70 341.05,1046.70 342.48,1046.70 343.91,1046.70 345.33,1046.70 346.76,1046.70 348.19,1046.70 349.62,1046.70 351.04,1046.70 352.47,1046.70 353.90,1046.70 355.33,1046.70 356.76,1046.70 358.18,1046.70 359.61,1046.70 361.04,1046.70 362.47,1046.70 363.89,1046.70 365.32,1046.70 366.75,1046.70 368.18,1046.70 369.60,1046.70 371.03,1046.69 372.46,1046.69 373.89,1046.69 375.32,1046.69 376.74,1046.69 378.17,1046.69 379.60,1046.68 381.03,1046.68 382.45,1046.67 383.88,1046.67 385.31,1046.66 386.74,1046.66 388.16,1046.65 389.59,1046.64 391.02,1046.63 392.45,1046.62 393.88,1046.60 395.30,1046.58 396.73,1046.56 398.16,1046.54 399.59,1046.52 401.01,1046.48 402.44,1046.45 403.87,1046.41 405.30,1046.36 406.72,1046.31 408.15,1046.25 409.58,1046.18 411.01,1046.10 412.44,1046.01 413.86,1045.91 415.29,1045.79 416.72,1045.66 418.15,1045.52 419.57,1045.36 421.00,1045.17 422.43,1044.97 423.86,1044.74 425.29,1044.49 426.71,1044.21 428.14,1043.90 429.57,1043.55 431.00,1043.17 432.42,1042.76 433.85,1042.30 435.28,1041.79 436.71,1041.24 438.13,1040.65 439.56,1039.99 440.99,1039.28 442.42,1038.51 443.85,1037.68 445.27,1036.79 446.70,1035.82 448.13,1034.79 449.56,1033.68 450.98,1032.50 452.41,1031.23 453.84,1029.89 455.27,1028.46 456.69,1026.96 458.12,1025.37 459.55,1023.69 460.98,1021.93 462.41,1020.09 463.83,1018.16 465.26,1016.15 466.69,1014.07 468.12,1011.91 469.54,1009.68 470.97,1007.37 472.40,1005.01 473.83,1002.59 475.26,1000.12 476.68,997.60 478.11,995.04 479.54,992.46 480.97,989.86 482.39,987.24 483.82,984.62 485.25,982.02 486.68,979.43 488.10,976.87 489.53,974.35 490.96,971.89 492.39,969.49 493.82,967.16 495.24,964.92 496.67,962.78 498.10,960.75 499.53,958.84 500.95,957.05 502.38,955.41 503.81,953.91 505.24,952.57 506.66,951.39 508.09,950.38 509.52,949.55 510.95,948.90 512.38,948.43 513.80,948.15 515.23,948.05 516.66,948.15 518.09,948.43 519.51,948.90 520.94,949.55 522.37,950.38 523.80,951.39 525.22,952.57 526.65,953.91 528.08,955.41 529.51,957.05 530.94,958.84 532.36,960.75 533.79,962.78 535.22,964.92 536.65,967.16 538.07,969.49 539.50,971.89 540.93,974.35 542.36,976.87 543.79,979.43 545.21,982.02 546.64,984.62 548.07,987.24 549.50,989.86 550.92,992.46 552.35,995.04 553.78,997.60 555.21,1000.12 556.63,1002.59 558.06,1005.01 559.49,1007.37 560.92,1009.68 562.35,1011.91 563.77,1014.07 565.20,1016.15 566.63,1018.16 568.06,1020.09 569.48,1021.93 570.91,1023.69 572.34,1025.37 573.77,1026.96 575.19,1028.46 576.62,1029.89 578.05,1031.23 579.48,1032.50 580.91,1033.68 582.33,1034.79 583.76,1035.82 585.19,1036.79 586.62,1037.68 588.04,1038.51 589.47,1039.28 590.90,1039.99 592.33,1040.65 593.75,1041.24 595.18,1041.79 596.61,1042.30 598.04,1042.76 599.47,1043.17 600.89,1043.55 602.32,1043.90 603.75,1044.21 605.18,1044.49 606.60,1044.74" fill="none" stroke="#0c0cdc" stroke-width="2.8" stroke-linejoin="round"/>
<polyline points="333.30,1043.41 334.21,1043.23 335.12,1043.05 336.03,1042.86 336.94,1042.66 337.86,1042.45 338.77,1042.24 339.68,1042.02 340.59,1041.79 341.50,1041.55 342.41,1041.31 343.32,1041.05 344.23,1040.79 345.14,1040.52 346.05,1040.24 346.97,1039.96 347.88,1039.66 348.79,1039.36 349.70,1039.04 350.61,1038.72 351.52,1038.40 352.43,1038.06 353.34,1037.71 354.25,1037.36 355.16,1037.00 356.08,1036.63 356.99,1036.25 357.90,1035.87 358.81,1035.48 359.72,1035.08 360.63,1034.68 361.54,1034.27 362.45,1033.85 363.36,1033.43 364.27,1033.00 365.19,1032.57 366.10,1032.13 367.01,1031.68 367.92,1031.24 368.83,1030.79 369.74,1030.34 370.65,1029.88 371.56,1029.42 372.47,1028.96 373.38,1028.50 374.30,1028.04 375.21,1027.58 376.12,1027.12 377.03,1026.67 377.94,1026.21 378.85,1025.76 379.76,1025.31 380.67,1024.86 381.58,1024.42 382.49,1023.98 383.41,1023.55 384.32,1023.12 385.23,1022.70 386.14,1022.29 387.05,1021.89 387.96,1021.49 388.87,1021.11 389.78,1020.74 390.69,1020.37 391.60,1020.02 392.52,1019.68 393.43,1019.35 394.34,1019.04 395.25,1018.74 396.16,1018.45 397.07,1018.18 397.98,1017.92 398.89,1017.68 399.80,1017.45 400.72,1017.24 401.63,1017.05 402.54,1016.88 403.45,1016.72 404.36,1016.58 405.27,1016.46 406.18,1016.35 407.09,1016.27 408.00,1016.20 408.91,1016.15 409.83,1016.12 410.74,1016.11 411.65,1016.12 412.56,1016.15 413.47,1016.19 414.38,1016.26 415.29,1016.34 416.20,1016.44 417.11,1016.56 418.02,1016.70 418.94,1016.85 419.85,1017.02 420.76,1017.21 421.67,1017.42 422.58,1017.64 423.49,1017.88 424.40,1018.14 425.31,1018.41 426.22,1018.69 427.13,1018.99 428.05,1019.30 428.96,1019.63 429.87,1019.97 430.78,1020.32 431.69,1020.68 432.60,1021.05 433.51,1021.44 434.42,1021.83 435.33,1022.23 436.24,1022.64 437.16,1023.06 438.07,1023.48 438.98,1023.91 439.89,1024.35 440.80,1024.79 441.71,1025.24 442.62,1025.69 443.53,1026.14 444.44,1026.60 445.35,1027.06 446.27,1027.51 447.18,1027.98 448.09,1028.44 449.00,1028.90 449.91,1029.35 450.82,1029.81 451.73,1030.27 452.64,1030.72 453.55,1031.17 454.46,1031.62 455.38,1032.06 456.29,1032.50 457.20,1032.93 458.11,1033.36 459.02,1033.79 459.93,1034.21 460.84,1034.62 461.75,1035.02 462.66,1035.42 463.57,1035.81 464.49,1036.20 465.40,1036.58 466.31,1036.94 467.22,1037.31 468.13,1037.66 469.04,1038.01 469.95,1038.35 470.86,1038.68 471.77,1039.00 472.69,1039.31 473.60,1039.62 474.51,1039.91 475.42,1040.20 476.33,1040.48 477.24,1040.75 478.15,1041.01 479.06,1041.27 479.97,1041.52 480.88,1041.75 481.80,1041.98 482.71,1042.21 483.62,1042.42 484.53,1042.63 485.44,1042.83 486.35,1043.02 487.26,1043.20 488.17,1043.38 489.08,1043.55 489.99,1043.71 490.91,1043.87 491.82,1044.02 492.73,1044.16 493.64,1044.30 494.55,1044.43 495.46,1044.56 496.37,1044.68 497.28,1044.79 498.19,1044.90 499.10,1045.00 500.02,1045.10 500.93,1045.20 501.84,1045.29 502.75,1045.37 503.66,1045.45 504.57,1045.53 505.48,1045.60 506.39,1045.67 507.30,1045.73 508.21,1045.79 509.13,1045.85 510.04,1045.91 510.95,1045.96 511.86,1046.01 512.77,1046.05 513.68,1046.10 514.59,1046.14 515.50,1046.18 516.41,1046.21 517.32,1046.25 518.24,1046.28 519.15,1046.31 520.06,1046.33 520.97,1046.36 521.88,1046.39 522.79,1046.41 523.70,1046.43 524.61,1046.45 525.52,1046.47 526.43,1046.49 527.35,1046.50 528.26,1046.52 529.17,1046.53 530.08,1046.54 530.99,1046.56 531.90,1046.57 532.81,1046.58 533.72,1046.59 534.63,1046.60 535.55,1046.60 536.46,1046.61 537.37,1046.62 538.28,1046.63 539.19,1046.63 540.10,1046.64 541.01,1046.64 541.92,1046.65 542.83,1046.65 543.74,1046.66 544.66,1046.66 545.57,1046.66 546.48,1046.67 547.39,1046.67 548.30,1046.67 549.21,1046.67 550.12,1046.68 551.03,1046.68 551.94,1046.68 552.85,1046.68 553.77,1046.68 554.68,1046.69 555.59,1046.69 556.50,1046.69 557.41,1046.69 558.32,1046.69 559.23,1046.69 560.14,1046.69 561.05,1046.69 561.96,1046.69 562.88,1046.69 563.79,1046.69 564.70,1046.70 565.61,1046.70 566.52,1046.70 567.43,1046.70 568.34,1046.70 569.25,1046.70 570.16,1046.70 571.07,1046.70 571.99,1046.70 572.90,1046.70 573.81,1046.70 574.72,1046.70 575.63,1046.70 576.54,1046.70 577.45,1046.70 578.36,1046.70 579.27,1046.70 580.18,1046.70 581.10,1046.70 582.01,1046.70 582.92,1046.70 583.83,1046.70 584.74,1046.70 585.65,1046.70 586.56,1046.70 587.47,1046.70 588.38,1046.70 589.29,1046.70 590.21,1046.70 591.12,1046.70 592.03,1046.70 592.94,1046.70 593.85,1046.70 594.76,1046.70 595.67,1046.70 596.58,1046.70 597.49,1046.70 598.41,1046.70 599.32,1046.70 600.23,1046.70 601.14,1046.70 602.05,1046.70 602.96,1046.70 603.87,1046.70 604.78,1046.70 605.69,1046.70 606.60,1046.70" fill="none" stroke="#10f0f8" stroke-width="2.8" stroke-linejoin="round"/>
<polyline points="408.36,1046.03 409.02,1045.92 409.68,1045.79 410.34,1045.64 411.00,1045.48 411.66,1045.29 412.32,1045.08 412.98,1044.85 413.64,1044.60 414.30,1044.32 414.96,1044.01 415.63,1043.68 416.29,1043.31 416.95,1042.92 417.61,1042.50 418.27,1042.05 418.93,1041.57 419.59,1041.07 420.25,1040.53 420.91,1039.98 421.57,1039.40 422.23,1038.80 422.89,1038.19 423.56,1037.57 424.22,1036.94 424.88,1036.30 425.54,1035.67 426.20,1035.04 426.86,1034.42 427.52,1033.83 428.18,1033.25 428.84,1032.71 429.50,1032.19 430.16,1031.72 430.82,1031.30 431.49,1030.92 432.15,1030.59 432.81,1030.33 433.47,1030.12 434.13,1029.97 434.79,1029.89 435.45,1029.88 436.11,1029.93 436.77,1030.04 437.43,1030.22 438.09,1030.46 438.75,1030.76 439.42,1031.11 440.08,1031.51 440.74,1031.96 441.40,1032.46 442.06,1032.98 442.72,1033.55 443.38,1034.13 444.04,1034.74 444.70,1035.36 445.36,1035.99 446.02,1036.63 446.68,1037.26 447.35,1037.89 448.01,1038.51 448.67,1039.12 449.33,1039.70 449.99,1040.27 450.65,1040.81 451.31,1041.33 451.97,1041.82 452.63,1042.29 453.29,1042.72 453.95,1043.13 454.61,1043.51 455.28,1043.86 455.94,1044.18 456.60,1044.47 457.26,1044.73 457.92,1044.98 458.58,1045.19 459.24,1045.39 459.90,1045.56 460.56,1045.72 461.22,1045.86 461.88,1045.98 462.54,1046.08 463.21,1046.17 463.87,1046.26 464.53,1046.32 465.19,1046.38 465.85,1046.44 466.51,1046.48 467.17,1046.52 467.83,1046.55 468.49,1046.58 469.15,1046.60 469.81,1046.62 470.47,1046.63 471.14,1046.64 471.80,1046.66 472.46,1046.66 473.12,1046.67 473.78,1046.68 474.44,1046.68 475.10,1046.69 475.76,1046.69 476.42,1046.69 477.08,1046.69 477.74,1046.69 478.40,1046.70 479.06,1046.70 479.73,1046.70 480.39,1046.70 481.05,1046.70 481.71,1046.70 482.37,1046.70 483.03,1046.70 483.69,1046.70 484.35,1046.70 485.01,1046.70 485.67,1046.70 486.33,1046.70 486.99,1046.70 487.66,1046.70 488.32,1046.70 488.98,1046.70 489.64,1046.70 490.30,1046.70 490.96,1046.70 491.62,1046.70 492.28,1046.70 492.94,1046.70 493.60,1046.70 494.26,1046.70 494.92,1046.70 495.59,1046.70 496.25,1046.70 496.91,1046.70 497.57,1046.70 498.23,1046.70 498.89,1046.70 499.55,1046.70 500.21,1046.70 500.87,1046.70 501.53,1046.70 502.19,1046.70 502.85,1046.70 503.52,1046.70 504.18,1046.70 504.84,1046.70 505.50,1046.70 506.16,1046.70 506.82,1046.70 507.48,1046.70 508.14,1046.70 508.80,1046.70 509.46,1046.70 510.12,1046.70 510.78,1046.70 511.45,1046.70 512.11,1046.70 512.77,1046.70 513.43,1046.70 514.09,1046.70 514.75,1046.70 515.41,1046.70 516.07,1046.70 516.73,1046.70 517.39,1046.70 518.05,1046.70 518.71,1046.70 519.38,1046.70 520.04,1046.70 520.70,1046.70 521.36,1046.70 522.02,1046.70 522.68,1046.70 523.34,1046.70 524.00,1046.70 524.66,1046.70 525.32,1046.70 525.98,1046.70 526.64,1046.70 527.31,1046.70 527.97,1046.70 528.63,1046.70 529.29,1046.70 529.95,1046.70 530.61,1046.70 531.27,1046.70 531.93,1046.70 532.59,1046.70 533.25,1046.70 533.91,1046.70 534.57,1046.70 535.24,1046.70 535.90,1046.70 536.56,1046.70 537.22,1046.70 537.88,1046.70 538.54,1046.70 539.20,1046.70 539.86,1046.70 540.52,1046.70 541.18,1046.70 541.84,1046.70 542.50,1046.70 543.16,1046.70 543.83,1046.70 544.49,1046.70 545.15,1046.70 545.81,1046.70 546.47,1046.70 547.13,1046.70 547.79,1046.70 548.45,1046.70 549.11,1046.70 549.77,1046.70 550.43,1046.70 551.09,1046.70 551.76,1046.70 552.42,1046.70 553.08,1046.70 553.74,1046.70 554.40,1046.70 555.06,1046.70 555.72,1046.70 556.38,1046.70 557.04,1046.70 557.70,1046.70 558.36,1046.70 559.02,1046.70 559.69,1046.70 560.35,1046.70 561.01,1046.70 561.67,1046.70 562.33,1046.70 562.99,1046.70 563.65,1046.70 564.31,1046.70 564.97,1046.70 565.63,1046.70 566.29,1046.70 566.95,1046.70 567.62,1046.70 568.28,1046.70 568.94,1046.70 569.60,1046.70 570.26,1046.70 570.92,1046.70 571.58,1046.70 572.24,1046.70 572.90,1046.70 573.56,1046.70 574.22,1046.70 574.88,1046.70 575.55,1046.70 576.21,1046.70 576.87,1046.70 577.53,1046.70 578.19,1046.70 578.85,1046.70 579.51,1046.70 580.17,1046.70 580.83,1046.70 581.49,1046.70 582.15,1046.70 582.81,1046.70 583.48,1046.70 584.14,1046.70 584.80,1046.70 585.46,1046.70 586.12,1046.70 586.78,1046.70 587.44,1046.70 588.10,1046.70 588.76,1046.70 589.42,1046.70 590.08,1046.70 590.74,1046.70 591.41,1046.70 592.07,1046.70 592.73,1046.70 593.39,1046.70 594.05,1046.70 594.71,1046.70 595.37,1046.70 596.03,1046.70 596.69,1046.70 597.35,1046.70 598.01,1046.70 598.67,1046.70 599.34,1046.70 600.00,1046.70 600.66,1046.70 601.32,1046.70 601.98,1046.70 602.64,1046.70 603.30,1046.70 603.96,1046.70 604.62,1046.70 605.28,1046.70 605.94,1046.70 606.60,1046.70" fill="none" stroke="#10f0f8" stroke-width="2.8" stroke-linejoin="round"/>
<polyline points="174.21,1046.66 175.68,1046.64 177.15,1046.61 178.62,1046.56 180.09,1046.48 181.56,1046.38 183.02,1046.22 184.49,1046.01 185.96,1045.70 187.43,1045.28 188.90,1044.70 190.37,1043.91 191.83,1042.87 193.30,1041.49 194.77,1039.71 196.24,1037.42 197.71,1034.52 199.18,1030.90 200.65,1026.45 202.11,1021.03 203.58,1014.55 205.05,1006.89 206.52,997.98 207.99,987.76 209.46,976.23 210.93,963.41 212.39,949.39 213.86,934.32 215.33,918.43 216.80,901.97 218.27,885.29 219.74,868.77 221.20,852.82 222.67,837.88 224.14,824.39 225.61,812.76 227.08,803.37 228.55,796.52 230.02,792.45 231.48,791.30 232.95,793.11 234.42,797.81 235.89,805.25 237.36,815.17 238.83,827.24 240.29,841.09 241.76,856.29 243.23,872.41 244.70,889.00 246.17,905.66 247.64,922.02 249.11,937.75 250.57,952.60 252.04,966.36 253.51,978.90 254.98,990.15 256.45,1000.07 257.92,1008.70 259.39,1016.08 260.85,1022.32 262.32,1027.51 263.79,1031.77 265.26,1035.21 266.73,1037.96 268.20,1040.13 269.66,1041.81 271.13,1043.11 272.60,1044.08 274.07,1044.81 275.54,1045.35 277.01,1045.74 278.48,1046.01 279.94,1046.21 281.41,1046.34 282.88,1046.43 284.35,1046.49 285.82,1046.52 287.29,1046.54 288.76,1046.54 290.22,1046.54 291.69,1046.53 293.16,1046.51 294.63,1046.49 296.10,1046.46 297.57,1046.44 299.03,1046.40 300.50,1046.36 301.97,1046.32 303.44,1046.27 304.91,1046.22 306.38,1046.16 307.85,1046.10 309.31,1046.03 310.78,1045.95 312.25,1045.87 313.72,1045.77 315.19,1045.67 316.66,1045.56 318.13,1045.44 319.59,1045.30 321.06,1045.16 322.53,1045.00 324.00,1044.83 325.47,1044.65 326.94,1044.45 328.40,1044.24 329.87,1044.01 331.34,1043.76 332.81,1043.50 334.28,1043.22 335.75,1042.92 337.22,1042.60 338.68,1042.26 340.15,1041.90 341.62,1041.52 343.09,1041.12 344.56,1040.69 346.03,1040.25 347.50,1039.78 348.96,1039.30 350.43,1038.79 351.90,1038.26 353.37,1037.70 354.84,1037.13 356.31,1036.54 357.77,1035.92 359.24,1035.29 360.71,1034.64 362.18,1033.97 363.65,1033.29 365.12,1032.60 366.59,1031.89 368.05,1031.17 369.52,1030.44 370.99,1029.70 372.46,1028.96 373.93,1028.22 375.40,1027.48 376.87,1026.74 378.33,1026.00 379.80,1025.27 381.27,1024.55 382.74,1023.84 384.21,1023.14 385.68,1022.46 387.14,1021.80 388.61,1021.16 390.08,1020.55 391.55,1019.96 393.02,1019.40 394.49,1018.87 395.96,1018.37 397.42,1017.90 398.89,1017.46 400.36,1017.05 401.83,1016.66 403.30,1016.29 404.77,1015.93 406.24,1015.58 407.70,1015.21 409.17,1014.83 410.64,1014.40 412.11,1013.91 413.58,1013.35 415.05,1012.70 416.51,1011.95 417.98,1011.08 419.45,1010.09 420.92,1009.01 422.39,1007.83 423.86,1006.61 425.33,1005.36 426.79,1004.15 428.26,1003.03 429.73,1002.06 431.20,1001.28 432.67,1000.74 434.14,1000.48 435.61,1000.51 437.07,1000.83 438.54,1001.42 440.01,1002.25 441.48,1003.27 442.95,1004.41 444.42,1005.61 445.88,1006.80 447.35,1007.92 448.82,1008.92 450.29,1009.75 451.76,1010.37 453.23,1010.77 454.70,1010.93 456.16,1010.85 457.63,1010.54 459.10,1010.00 460.57,1009.26 462.04,1008.32 463.51,1007.21 464.98,1005.93 466.44,1004.51 467.91,1002.95 469.38,1001.27 470.85,999.48 472.32,997.59 473.79,995.61 475.26,993.55 476.72,991.42 478.19,989.22 479.66,986.97 481.13,984.67 482.60,982.35 484.07,980.00 485.53,977.64 487.00,975.29 488.47,972.95 489.94,970.65 491.41,968.38 492.88,966.17 494.35,964.02 495.81,961.96 497.28,959.99 498.75,958.13 500.22,956.38 501.69,954.76 503.16,953.28 504.62,951.96 506.09,950.79 507.56,949.79 509.03,948.96 510.50,948.32 511.97,947.86 513.44,947.59 514.90,947.51 516.37,947.62 517.84,947.93 519.31,948.43 520.78,949.12 522.25,950.00 523.72,951.06 525.18,952.30 526.65,953.70 528.12,955.27 529.59,956.99 531.06,958.85 532.53,960.85 533.99,962.97 535.46,965.20 536.93,967.54 538.40,969.96 539.87,972.45 541.34,975.01 542.81,977.62 544.27,980.27 545.74,982.95 547.21,985.64 548.68,988.34 550.15,991.03 551.62,993.70 553.09,996.34 554.55,998.96 556.02,1001.52 557.49,1004.04 558.96,1006.50 560.43,1008.89 561.90,1011.21 563.37,1013.45 564.83,1015.62 566.30,1017.71 567.77,1019.71 569.24,1021.62 570.71,1023.44 572.18,1025.18 573.64,1026.82 575.11,1028.38 576.58,1029.85 578.05,1031.23 579.52,1032.53 580.99,1033.74 582.46,1034.88 583.92,1035.94 585.39,1036.92 586.86,1037.83 588.33,1038.67 589.80,1039.45 591.27,1040.17 592.73,1040.82 594.20,1041.42 595.67,1041.97 597.14,1042.47 598.61,1042.93 600.08,1043.34 601.55,1043.72 603.01,1044.05 604.48,1044.36 605.95,1044.63 607.42,1044.88 608.89,1045.09 610.36,1045.29 611.83,1045.47 613.29,1045.62 614.76,1045.76" fill="none" stroke="#000" stroke-width="2.7" stroke-linejoin="round"/>
<path d="M232.50 775V862 M514.50 775V988" stroke="#1414f0" stroke-width="2.8" stroke-dasharray="9 5" fill="none"/>
<rect x="88" y="797.3" width="40" height="4.2" fill="#fff"/><rect x="111.2" y="786" width="8.6" height="28" fill="#fff"/><rect x="90" y="806.5" width="7.6" height="5" fill="#fff"/><rect x="101.6" y="806.5" width="4.2" height="5" fill="#fff"/>
<text x="364.3" y="1108.4" font-size="30" text-anchor="middle">z (nm)</text>
<text transform="translate(71.5 905) rotate(-90)" font-size="30" text-anchor="middle">Counts (a.u.)</text>
<path d="M258 826.2H492" stroke="#000" stroke-width="5"/>
<path d="M238.7 826.2 L258.7 813 L258.7 839.4Z M512.5 826.2 L492.5 813 L492.5 839.4Z" fill="#000"/>
<text x="385.5" y="816.5" font-size="33" letter-spacing="0.4" text-anchor="middle">3.47nm</text>
<path d="M190.5 789.2 L209.6 808.7 L190.5 828.2 L171.4 808.7Z" fill="none" stroke="#14f014" stroke-width="4.8"/>
<text x="539.5" y="901" font-size="37" text-anchor="middle">α</text>
<rect x="529.5" y="916.2" width="25.8" height="26.8" fill="none" stroke="#00e8f8" stroke-width="5.2"/>
<text x="376.5" y="952" font-size="39.5" text-anchor="middle">β</text>
<path d="M374.6 967.3 L361 993 L388.3 993Z" fill="none" stroke="#ff14ff" stroke-width="4.6"/>
<circle cx="430" cy="972.5" r="13.2" fill="none" stroke="#ff0a0a" stroke-width="4.8"/>
<path d="M798.29 1047.00V1043.61H801.72V1047.00M801.72 1047.00V1040.23H805.14V1047.00M805.14 1047.00V1036.60H808.57V1047.00M808.57 1047.00V1029.39H812.00V1047.00M812.00 1047.00V1019.68H815.42V1047.00M815.42 1047.00V1004.14H818.85V1047.00M818.85 1047.00V985.40H822.28V1047.00M822.28 1047.00V964.11H825.70V1047.00M825.70 1047.00V927.21H829.13V1047.00M829.13 1047.00V904.91H832.56V1047.00M832.56 1047.00V869.24H835.98V1047.00M835.98 1047.00V848.79H839.41V1047.00M839.41 1047.00V831.50H842.84V1047.00M842.84 1047.00V817.05H846.26V1047.00M846.26 1047.00V801.07H849.69V1047.00M849.69 1047.00V808.40H853.12V1047.00M853.12 1047.00V850.17H856.54V1047.00M856.54 1047.00V844.47H859.97V1047.00M859.97 1047.00V858.77H863.40V1047.00M863.40 1047.00V895.49H866.82V1047.00M866.82 1047.00V917.20H870.25V1047.00M870.25 1047.00V941.19H873.67V1047.00M873.67 1047.00V949.63H877.10V1047.00M877.10 1047.00V962.43H880.53V1047.00M880.53 1047.00V969.18H883.95V1047.00M883.95 1047.00V972.99H887.38V1047.00M887.38 1047.00V969.69H890.81V1047.00M890.81 1047.00V962.01H894.23V1047.00M894.23 1047.00V951.30H897.66V1047.00M897.66 1047.00V955.54H901.09V1047.00M901.09 1047.00V943.34H904.51V1047.00M904.51 1047.00V935.26H907.94V1047.00M907.94 1047.00V933.97H911.37V1047.00M911.37 1047.00V927.92H914.79V1047.00M914.79 1047.00V926.79H918.22V1047.00M918.22 1047.00V924.38H921.65V1047.00M921.65 1047.00V937.62H925.07V1047.00M925.07 1047.00V940.66H928.50V1047.00M928.50 1047.00V942.53H931.93V1047.00M931.93 1047.00V956.88H935.35V1047.00M935.35 1047.00V957.24H938.78V1047.00M938.78 1047.00V963.38H942.20V1047.00M942.20 1047.00V971.44H945.63V1047.00M945.63 1047.00V981.38H949.06V1047.00M949.06 1047.00V990.84H952.48V1047.00M952.48 1047.00V994.99H955.91V1047.00M955.91 1047.00V1002.44H959.34V1047.00M959.34 1047.00V1010.96H962.76V1047.00M962.76 1047.00V1014.45H966.19V1047.00M966.19 1047.00V1022.05H969.62V1047.00M969.62 1047.00V1024.24H973.04V1047.00M973.04 1047.00V1026.25H976.47V1047.00M976.47 1047.00V1027.21H979.90V1047.00M979.90 1047.00V1029.26H983.32V1047.00M983.32 1047.00V1029.89H986.75V1047.00M986.75 1047.00V1030.05H990.18V1047.00M990.18 1047.00V1026.93H993.60V1047.00M993.60 1047.00V1026.97H997.03V1047.00M997.03 1047.00V1024.90H1000.46V1047.00M1000.46 1047.00V1022.82H1003.88V1047.00M1003.88 1047.00V1024.44H1007.31V1047.00M1007.31 1047.00V1020.50H1010.73V1047.00M1010.73 1047.00V1020.19H1014.16V1047.00M1014.16 1047.00V1022.78H1017.59V1047.00M1017.59 1047.00V1021.60H1021.01V1047.00M1021.01 1047.00V1022.26H1024.44V1047.00M1024.44 1047.00V1022.05H1027.87V1047.00M1027.87 1047.00V1021.29H1031.29V1047.00M1031.29 1047.00V1017.93H1034.72V1047.00M1034.72 1047.00V1020.40H1038.15V1047.00M1038.15 1047.00V1025.33H1041.57V1047.00M1041.57 1047.00V1030.18H1045.00V1047.00M1045.00 1047.00V1035.30H1048.43V1047.00M1048.43 1047.00V1040.58H1051.85V1047.00M1051.85 1047.00V1042.32H1055.28V1047.00M1055.28 1047.00V1044.05H1058.71V1047.00M1058.71 1047.00V1045.13H1062.13V1047.00M1062.13 1047.00V1045.15H1065.56V1047.00M1072.41 1047.00V1045.81H1075.84V1047.00" fill="#cbcbcb" stroke="#383838" stroke-width="1.15"/>
<rect x="757.50" y="771.40" width="489.50" height="275.60" fill="none" stroke="#000" stroke-width="3.5"/>
<path d="M798.29 1047.00v7.00M798.29 771.40v7.00M879.88 1047.00v7.00M879.88 771.40v7.00M961.46 1047.00v7.00M961.46 771.40v7.00M1043.04 1047.00v7.00M1043.04 771.40v7.00M1124.62 1047.00v7.00M1124.62 771.40v7.00M1206.21 1047.00v7.00M1206.21 771.40v7.00M757.50 1047.00v4.00M757.50 771.40v4.00M839.08 1047.00v4.00M839.08 771.40v4.00M920.67 1047.00v4.00M920.67 771.40v4.00M1002.25 1047.00v4.00M1002.25 771.40v4.00M1083.83 1047.00v4.00M1083.83 771.40v4.00M1165.42 1047.00v4.00M1165.42 771.40v4.00M1247.00 1047.00v4.00M1247.00 771.40v4.00" stroke="#000" stroke-width="3" fill="none"/>
<text x="798.29" y="1077.00" font-size="26" text-anchor="middle">0</text>
<text x="879.88" y="1077.00" font-size="26" text-anchor="middle">1</text>
<text x="961.46" y="1077.00" font-size="26" text-anchor="middle">2</text>
<text x="1043.04" y="1077.00" font-size="26" text-anchor="middle">3</text>
<text x="1124.62" y="1077.00" font-size="26" text-anchor="middle">4</text>
<text x="1206.21" y="1077.00" font-size="26" text-anchor="middle">5</text>
<path d="M757.50 1047.00h-7.00M1247.00 1047.00h-7.00M757.50 962.20h-7.00M1247.00 962.20h-7.00M757.50 877.40h-7.00M1247.00 877.40h-7.00M757.50 792.60h-7.00M1247.00 792.60h-7.00M757.50 1004.60h-4.00M1247.00 1004.60h-4.00M757.50 919.80h-4.00M1247.00 919.80h-4.00M757.50 835.00h-4.00M1247.00 835.00h-4.00" stroke="#000" stroke-width="3" fill="none"/>
<text x="747.00" y="1055.20" font-size="26" text-anchor="end">0.0</text>
<text x="747.00" y="970.40" font-size="26" text-anchor="end">0.4</text>
<text x="747.00" y="885.60" font-size="26" text-anchor="end">0.8</text>
<text x="747.00" y="800.80" font-size="26" text-anchor="end">1.2</text>
<polyline points="802.37,1041.49 803.28,1040.59 804.19,1039.56 805.10,1038.39 806.01,1037.07 806.93,1035.58 807.84,1033.91 808.75,1032.05 809.66,1029.97 810.57,1027.66 811.48,1025.11 812.39,1022.30 813.30,1019.22 814.21,1015.84 815.13,1012.17 816.04,1008.19 816.95,1003.88 817.86,999.24 818.77,994.27 819.68,988.97 820.59,983.33 821.50,977.36 822.41,971.06 823.32,964.46 824.24,957.56 825.15,950.39 826.06,942.96 826.97,935.31 827.88,927.47 828.79,919.49 829.70,911.39 830.61,903.22 831.52,895.04 832.43,886.89 833.35,878.83 834.26,870.92 835.17,863.21 836.08,855.75 836.99,848.61 837.90,841.85 838.81,835.52 839.72,829.67 840.63,824.35 841.54,819.61 842.46,815.50 843.37,812.04 844.28,809.28 845.19,807.23 846.10,805.91 847.01,805.34 847.92,805.53 848.83,806.47 849.74,808.14 850.65,810.55 851.57,813.66 852.48,817.44 853.39,821.87 854.30,826.90 855.21,832.48 856.12,838.58 857.03,845.13 857.94,852.09 858.85,859.39 859.76,866.98 860.68,874.80 861.59,882.79 862.50,890.90 863.41,899.07 864.32,907.25 865.23,915.39 866.14,923.44 867.05,931.36 867.96,939.10 868.87,946.65 869.79,953.95 870.70,960.99 871.61,967.75 872.52,974.20 873.43,980.34 874.34,986.15 875.25,991.62 876.16,996.76 877.07,1001.57 877.98,1006.04 878.90,1010.19 879.81,1014.02 880.72,1017.54 881.63,1020.77 882.54,1023.72 883.45,1026.40 884.36,1028.83 885.27,1031.02 886.18,1032.99 887.10,1034.76 888.01,1036.34 888.92,1037.74 889.83,1038.98 890.74,1040.08 891.65,1041.05 892.56,1041.89 893.47,1042.63 894.38,1043.28 895.29,1043.84 896.21,1044.32 897.12,1044.74 898.03,1045.10 898.94,1045.40 899.85,1045.66 900.76,1045.89 901.67,1046.07 902.58,1046.23 903.49,1046.37 904.40,1046.48 905.32,1046.57 906.23,1046.65 907.14,1046.71 908.05,1046.77 908.96,1046.81 909.87,1046.85 910.78,1046.88 911.69,1046.90 912.60,1046.92 913.51,1046.94 914.43,1046.95 915.34,1046.96 916.25,1046.97 917.16,1046.98 918.07,1046.98 918.98,1046.98 919.89,1046.99 920.80,1046.99 921.71,1046.99 922.62,1046.99 923.54,1047.00 924.45,1047.00 925.36,1047.00 926.27,1047.00 927.18,1047.00 928.09,1047.00 929.00,1047.00 929.91,1047.00 930.82,1047.00 931.73,1047.00 932.65,1047.00 933.56,1047.00 934.47,1047.00 935.38,1047.00 936.29,1047.00 937.20,1047.00 938.11,1047.00 939.02,1047.00 939.93,1047.00 940.84,1047.00 941.76,1047.00 942.67,1047.00 943.58,1047.00 944.49,1047.00 945.40,1047.00 946.31,1047.00 947.22,1047.00 948.13,1047.00 949.04,1047.00 949.96,1047.00 950.87,1047.00 951.78,1047.00 952.69,1047.00 953.60,1047.00 954.51,1047.00 955.42,1047.00 956.33,1047.00 957.24,1047.00 958.15,1047.00 959.07,1047.00 959.98,1047.00 960.89,1047.00 961.80,1047.00 962.71,1047.00 963.62,1047.00 964.53,1047.00 965.44,1047.00 966.35,1047.00 967.26,1047.00 968.18,1047.00 969.09,1047.00 970.00,1047.00 970.91,1047.00 971.82,1047.00 972.73,1047.00 973.64,1047.00 974.55,1047.00 975.46,1047.00 976.37,1047.00 977.29,1047.00 978.20,1047.00 979.11,1047.00 980.02,1047.00 980.93,1047.00 981.84,1047.00 982.75,1047.00 983.66,1047.00 984.57,1047.00 985.48,1047.00 986.40,1047.00 987.31,1047.00 988.22,1047.00 989.13,1047.00 990.04,1047.00 990.95,1047.00 991.86,1047.00 992.77,1047.00 993.68,1047.00 994.59,1047.00 995.51,1047.00 996.42,1047.00 997.33,1047.00 998.24,1047.00 999.15,1047.00 1000.06,1047.00 1000.97,1047.00 1001.88,1047.00 1002.79,1047.00 1003.70,1047.00 1004.62,1047.00 1005.53,1047.00 1006.44,1047.00 1007.35,1047.00 1008.26,1047.00 1009.17,1047.00 1010.08,1047.00 1010.99,1047.00 1011.90,1047.00 1012.82,1047.00 1013.73,1047.00 1014.64,1047.00 1015.55,1047.00 1016.46,1047.00 1017.37,1047.00 1018.28,1047.00 1019.19,1047.00 1020.10,1047.00 1021.01,1047.00 1021.93,1047.00 1022.84,1047.00 1023.75,1047.00 1024.66,1047.00 1025.57,1047.00 1026.48,1047.00 1027.39,1047.00 1028.30,1047.00 1029.21,1047.00 1030.12,1047.00 1031.04,1047.00 1031.95,1047.00 1032.86,1047.00 1033.77,1047.00 1034.68,1047.00 1035.59,1047.00 1036.50,1047.00 1037.41,1047.00 1038.32,1047.00 1039.23,1047.00 1040.15,1047.00 1041.06,1047.00 1041.97,1047.00 1042.88,1047.00 1043.79,1047.00 1044.70,1047.00 1045.61,1047.00 1046.52,1047.00 1047.43,1047.00 1048.34,1047.00 1049.26,1047.00 1050.17,1047.00 1051.08,1047.00 1051.99,1047.00 1052.90,1047.00 1053.81,1047.00 1054.72,1047.00 1055.63,1047.00 1056.54,1047.00 1057.45,1047.00 1058.37,1047.00 1059.28,1047.00 1060.19,1047.00 1061.10,1047.00 1062.01,1047.00 1062.92,1047.00 1063.83,1047.00 1064.74,1047.00 1065.65,1047.00 1066.56,1047.00 1067.48,1047.00 1068.39,1047.00 1069.30,1047.00 1070.21,1047.00 1071.12,1047.00 1072.03,1047.00 1072.94,1047.00 1073.85,1047.00 1074.76,1047.00 1075.67,1047.00" fill="none" stroke="#0c0cdc" stroke-width="2.8" stroke-linejoin="round"/>
<polyline points="802.37,1046.96 803.28,1046.95 804.19,1046.95 805.10,1046.94 806.01,1046.93 806.93,1046.93 807.84,1046.92 808.75,1046.91 809.66,1046.89 810.57,1046.88 811.48,1046.86 812.39,1046.85 813.30,1046.83 814.21,1046.81 815.13,1046.78 816.04,1046.76 816.95,1046.73 817.86,1046.70 818.77,1046.66 819.68,1046.63 820.59,1046.58 821.50,1046.54 822.41,1046.48 823.32,1046.43 824.24,1046.36 825.15,1046.30 826.06,1046.22 826.97,1046.14 827.88,1046.05 828.79,1045.95 829.70,1045.84 830.61,1045.72 831.52,1045.60 832.43,1045.46 833.35,1045.31 834.26,1045.14 835.17,1044.96 836.08,1044.77 836.99,1044.56 837.90,1044.34 838.81,1044.09 839.72,1043.83 840.63,1043.55 841.54,1043.24 842.46,1042.92 843.37,1042.57 844.28,1042.19 845.19,1041.79 846.10,1041.36 847.01,1040.90 847.92,1040.41 848.83,1039.89 849.74,1039.33 850.65,1038.74 851.57,1038.12 852.48,1037.45 853.39,1036.75 854.30,1036.00 855.21,1035.22 856.12,1034.39 857.03,1033.51 857.94,1032.59 858.85,1031.63 859.76,1030.61 860.68,1029.54 861.59,1028.43 862.50,1027.26 863.41,1026.04 864.32,1024.77 865.23,1023.44 866.14,1022.07 867.05,1020.63 867.96,1019.15 868.87,1017.61 869.79,1016.01 870.70,1014.37 871.61,1012.67 872.52,1010.92 873.43,1009.11 874.34,1007.26 875.25,1005.36 876.16,1003.42 877.07,1001.43 877.98,999.39 878.90,997.32 879.81,995.21 880.72,993.07 881.63,990.89 882.54,988.68 883.45,986.45 884.36,984.20 885.27,981.93 886.18,979.65 887.10,977.36 888.01,975.06 888.92,972.76 889.83,970.47 890.74,968.19 891.65,965.92 892.56,963.67 893.47,961.45 894.38,959.26 895.29,957.10 896.21,954.98 897.12,952.91 898.03,950.89 898.94,948.92 899.85,947.02 900.76,945.19 901.67,943.42 902.58,941.73 903.49,940.13 904.40,938.61 905.32,937.18 906.23,935.84 907.14,934.61 908.05,933.47 908.96,932.44 909.87,931.52 910.78,930.71 911.69,930.01 912.60,929.43 913.51,928.97 914.43,928.62 915.34,928.39 916.25,928.29 917.16,928.30 918.07,928.44 918.98,928.70 919.89,929.07 920.80,929.57 921.71,930.18 922.62,930.90 923.54,931.74 924.45,932.69 925.36,933.75 926.27,934.91 927.18,936.17 928.09,937.53 929.00,938.99 929.91,940.53 930.82,942.16 931.73,943.86 932.65,945.64 933.56,947.50 934.47,949.42 935.38,951.40 936.29,953.43 937.20,955.51 938.11,957.64 939.02,959.81 939.93,962.01 940.84,964.24 941.76,966.50 942.67,968.77 943.58,971.05 944.49,973.35 945.40,975.64 946.31,977.94 947.22,980.23 948.13,982.51 949.04,984.77 949.96,987.02 950.87,989.25 951.78,991.44 952.69,993.61 953.60,995.75 954.51,997.85 955.42,999.91 956.33,1001.94 957.24,1003.92 958.15,1005.85 959.07,1007.74 959.98,1009.58 960.89,1011.37 961.80,1013.10 962.71,1014.79 963.62,1016.42 964.53,1018.00 965.44,1019.53 966.35,1021.00 967.26,1022.42 968.18,1023.79 969.09,1025.10 970.00,1026.36 970.91,1027.56 971.82,1028.72 972.73,1029.82 973.64,1030.87 974.55,1031.88 975.46,1032.83 976.37,1033.74 977.29,1034.60 978.20,1035.42 979.11,1036.20 980.02,1036.93 980.93,1037.63 981.84,1038.28 982.75,1038.90 983.66,1039.48 984.57,1040.03 985.48,1040.54 986.40,1041.02 987.31,1041.47 988.22,1041.89 989.13,1042.29 990.04,1042.66 990.95,1043.00 991.86,1043.32 992.77,1043.62 993.68,1043.90 994.59,1044.16 995.51,1044.39 996.42,1044.62 997.33,1044.82 998.24,1045.01 999.15,1045.18 1000.06,1045.34 1000.97,1045.49 1001.88,1045.63 1002.79,1045.75 1003.70,1045.87 1004.62,1045.97 1005.53,1046.07 1006.44,1046.16 1007.35,1046.24 1008.26,1046.31 1009.17,1046.38 1010.08,1046.44 1010.99,1046.50 1011.90,1046.55 1012.82,1046.59 1013.73,1046.64 1014.64,1046.67 1015.55,1046.71 1016.46,1046.74 1017.37,1046.77 1018.28,1046.79 1019.19,1046.81 1020.10,1046.83 1021.01,1046.85 1021.93,1046.87 1022.84,1046.88 1023.75,1046.90 1024.66,1046.91 1025.57,1046.92 1026.48,1046.93 1027.39,1046.94 1028.30,1046.94 1029.21,1046.95 1030.12,1046.96 1031.04,1046.96 1031.95,1046.97 1032.86,1046.97 1033.77,1046.97 1034.68,1046.98 1035.59,1046.98 1036.50,1046.98 1037.41,1046.98 1038.32,1046.99 1039.23,1046.99 1040.15,1046.99 1041.06,1046.99 1041.97,1046.99 1042.88,1046.99 1043.79,1046.99 1044.70,1046.99 1045.61,1047.00 1046.52,1047.00 1047.43,1047.00 1048.34,1047.00 1049.26,1047.00 1050.17,1047.00 1051.08,1047.00 1051.99,1047.00 1052.90,1047.00 1053.81,1047.00 1054.72,1047.00 1055.63,1047.00 1056.54,1047.00 1057.45,1047.00 1058.37,1047.00 1059.28,1047.00 1060.19,1047.00 1061.10,1047.00 1062.01,1047.00 1062.92,1047.00 1063.83,1047.00 1064.74,1047.00 1065.65,1047.00 1066.56,1047.00 1067.48,1047.00 1068.39,1047.00 1069.30,1047.00 1070.21,1047.00 1071.12,1047.00 1072.03,1047.00 1072.94,1047.00 1073.85,1047.00 1074.76,1047.00 1075.67,1047.00" fill="none" stroke="#0c0cdc" stroke-width="2.8" stroke-linejoin="round"/>
<polyline points="802.37,1047.00 803.28,1047.00 804.19,1047.00 805.10,1047.00 806.01,1047.00 806.93,1047.00 807.84,1047.00 808.75,1047.00 809.66,1047.00 810.57,1047.00 811.48,1047.00 812.39,1047.00 813.30,1047.00 814.21,1047.00 815.13,1047.00 816.04,1047.00 816.95,1047.00 817.86,1047.00 818.77,1047.00 819.68,1047.00 820.59,1047.00 821.50,1047.00 822.41,1047.00 823.32,1047.00 824.24,1047.00 825.15,1047.00 826.06,1047.00 826.97,1047.00 827.88,1047.00 828.79,1047.00 829.70,1047.00 830.61,1047.00 831.52,1047.00 832.43,1047.00 833.35,1047.00 834.26,1047.00 835.17,1047.00 836.08,1047.00 836.99,1047.00 837.90,1047.00 838.81,1047.00 839.72,1047.00 840.63,1047.00 841.54,1047.00 842.46,1047.00 843.37,1047.00 844.28,1047.00 845.19,1047.00 846.10,1047.00 847.01,1047.00 847.92,1047.00 848.83,1047.00 849.74,1047.00 850.65,1047.00 851.57,1047.00 852.48,1047.00 853.39,1047.00 854.30,1047.00 855.21,1047.00 856.12,1047.00 857.03,1047.00 857.94,1047.00 858.85,1047.00 859.76,1047.00 860.68,1047.00 861.59,1047.00 862.50,1047.00 863.41,1047.00 864.32,1047.00 865.23,1047.00 866.14,1047.00 867.05,1047.00 867.96,1047.00 868.87,1047.00 869.79,1047.00 870.70,1047.00 871.61,1047.00 872.52,1047.00 873.43,1047.00 874.34,1047.00 875.25,1047.00 876.16,1047.00 877.07,1047.00 877.98,1047.00 878.90,1047.00 879.81,1047.00 880.72,1047.00 881.63,1047.00 882.54,1047.00 883.45,1047.00 884.36,1047.00 885.27,1047.00 886.18,1047.00 887.10,1047.00 888.01,1047.00 888.92,1047.00 889.83,1047.00 890.74,1047.00 891.65,1047.00 892.56,1047.00 893.47,1047.00 894.38,1047.00 895.29,1047.00 896.21,1047.00 897.12,1047.00 898.03,1047.00 898.94,1047.00 899.85,1047.00 900.76,1047.00 901.67,1047.00 902.58,1047.00 903.49,1047.00 904.40,1047.00 905.32,1047.00 906.23,1047.00 907.14,1047.00 908.05,1047.00 908.96,1047.00 909.87,1047.00 910.78,1047.00 911.69,1047.00 912.60,1047.00 913.51,1047.00 914.43,1047.00 915.34,1047.00 916.25,1047.00 917.16,1047.00 918.07,1047.00 918.98,1047.00 919.89,1047.00 920.80,1047.00 921.71,1047.00 922.62,1047.00 923.54,1047.00 924.45,1047.00 925.36,1047.00 926.27,1047.00 927.18,1047.00 928.09,1047.00 929.00,1046.99 929.91,1046.99 930.82,1046.99 931.73,1046.99 932.65,1046.99 933.56,1046.99 934.47,1046.98 935.38,1046.98 936.29,1046.98 937.20,1046.97 938.11,1046.97 939.02,1046.96 939.93,1046.96 940.84,1046.95 941.76,1046.94 942.67,1046.93 943.58,1046.92 944.49,1046.91 945.40,1046.89 946.31,1046.88 947.22,1046.86 948.13,1046.83 949.04,1046.81 949.96,1046.78 950.87,1046.75 951.78,1046.71 952.69,1046.67 953.60,1046.63 954.51,1046.57 955.42,1046.52 956.33,1046.45 957.24,1046.38 958.15,1046.30 959.07,1046.21 959.98,1046.12 960.89,1046.01 961.80,1045.89 962.71,1045.76 963.62,1045.62 964.53,1045.46 965.44,1045.29 966.35,1045.11 967.26,1044.91 968.18,1044.69 969.09,1044.46 970.00,1044.20 970.91,1043.93 971.82,1043.64 972.73,1043.33 973.64,1042.99 974.55,1042.64 975.46,1042.26 976.37,1041.86 977.29,1041.44 978.20,1041.00 979.11,1040.53 980.02,1040.04 980.93,1039.53 981.84,1038.99 982.75,1038.44 983.66,1037.87 984.57,1037.27 985.48,1036.66 986.40,1036.03 987.31,1035.39 988.22,1034.74 989.13,1034.07 990.04,1033.39 990.95,1032.71 991.86,1032.02 992.77,1031.33 993.68,1030.65 994.59,1029.96 995.51,1029.28 996.42,1028.62 997.33,1027.96 998.24,1027.32 999.15,1026.70 1000.06,1026.10 1000.97,1025.53 1001.88,1024.99 1002.79,1024.47 1003.70,1024.00 1004.62,1023.55 1005.53,1023.15 1006.44,1022.79 1007.35,1022.47 1008.26,1022.20 1009.17,1021.97 1010.08,1021.79 1010.99,1021.67 1011.90,1021.59 1012.82,1021.56 1013.73,1021.58 1014.64,1021.66 1015.55,1021.78 1016.46,1021.95 1017.37,1022.18 1018.28,1022.44 1019.19,1022.76 1020.10,1023.12 1021.01,1023.52 1021.93,1023.95 1022.84,1024.43 1023.75,1024.94 1024.66,1025.48 1025.57,1026.05 1026.48,1026.65 1027.39,1027.27 1028.30,1027.90 1029.21,1028.56 1030.12,1029.22 1031.04,1029.90 1031.95,1030.58 1032.86,1031.27 1033.77,1031.96 1034.68,1032.65 1035.59,1033.33 1036.50,1034.01 1037.41,1034.68 1038.32,1035.33 1039.23,1035.98 1040.15,1036.61 1041.06,1037.22 1041.97,1037.81 1042.88,1038.39 1043.79,1038.95 1044.70,1039.48 1045.61,1039.99 1046.52,1040.49 1047.43,1040.95 1048.34,1041.40 1049.26,1041.83 1050.17,1042.23 1051.08,1042.61 1051.99,1042.96 1052.90,1043.30 1053.81,1043.61 1054.72,1043.91 1055.63,1044.18 1056.54,1044.43 1057.45,1044.67 1058.37,1044.89 1059.28,1045.09 1060.19,1045.28 1061.10,1045.45 1062.01,1045.61 1062.92,1045.75 1063.83,1045.88 1064.74,1046.00 1065.65,1046.11 1066.56,1046.21 1067.48,1046.29 1068.39,1046.38 1069.30,1046.45 1070.21,1046.51 1071.12,1046.57 1072.03,1046.62 1072.94,1046.67 1073.85,1046.71 1074.76,1046.75 1075.67,1046.78" fill="none" stroke="#10f0f8" stroke-width="2.8" stroke-linejoin="round"/>
<polyline points="802.37,1047.00 803.28,1047.00 804.19,1047.00 805.10,1047.00 806.01,1047.00 806.93,1047.00 807.84,1047.00 808.75,1047.00 809.66,1047.00 810.57,1047.00 811.48,1047.00 812.39,1047.00 813.30,1047.00 814.21,1047.00 815.13,1047.00 816.04,1047.00 816.95,1047.00 817.86,1047.00 818.77,1047.00 819.68,1047.00 820.59,1047.00 821.50,1047.00 822.41,1047.00 823.32,1047.00 824.24,1047.00 825.15,1047.00 826.06,1047.00 826.97,1047.00 827.88,1047.00 828.79,1047.00 829.70,1047.00 830.61,1047.00 831.52,1047.00 832.43,1047.00 833.35,1047.00 834.26,1047.00 835.17,1047.00 836.08,1047.00 836.99,1047.00 837.90,1047.00 838.81,1047.00 839.72,1047.00 840.63,1047.00 841.54,1047.00 842.46,1047.00 843.37,1047.00 844.28,1047.00 845.19,1047.00 846.10,1047.00 847.01,1047.00 847.92,1047.00 848.83,1047.00 849.74,1047.00 850.65,1047.00 851.57,1047.00 852.48,1047.00 853.39,1047.00 854.30,1047.00 855.21,1047.00 856.12,1047.00 857.03,1047.00 857.94,1047.00 858.85,1047.00 859.76,1047.00 860.68,1047.00 861.59,1047.00 862.50,1047.00 863.41,1047.00 864.32,1047.00 865.23,1047.00 866.14,1047.00 867.05,1047.00 867.96,1047.00 868.87,1047.00 869.79,1047.00 870.70,1047.00 871.61,1047.00 872.52,1047.00 873.43,1047.00 874.34,1047.00 875.25,1047.00 876.16,1047.00 877.07,1047.00 877.98,1047.00 878.90,1047.00 879.81,1047.00 880.72,1047.00 881.63,1047.00 882.54,1047.00 883.45,1047.00 884.36,1047.00 885.27,1047.00 886.18,1047.00 887.10,1047.00 888.01,1047.00 888.92,1047.00 889.83,1047.00 890.74,1047.00 891.65,1047.00 892.56,1047.00 893.47,1047.00 894.38,1047.00 895.29,1047.00 896.21,1047.00 897.12,1047.00 898.03,1047.00 898.94,1047.00 899.85,1047.00 900.76,1047.00 901.67,1047.00 902.58,1047.00 903.49,1047.00 904.40,1047.00 905.32,1047.00 906.23,1047.00 907.14,1047.00 908.05,1047.00 908.96,1047.00 909.87,1047.00 910.78,1047.00 911.69,1047.00 912.60,1047.00 913.51,1047.00 914.43,1047.00 915.34,1047.00 916.25,1047.00 917.16,1047.00 918.07,1047.00 918.98,1047.00 919.89,1047.00 920.80,1047.00 921.71,1047.00 922.62,1047.00 923.54,1047.00 924.45,1047.00 925.36,1047.00 926.27,1047.00 927.18,1047.00 928.09,1047.00 929.00,1047.00 929.91,1047.00 930.82,1047.00 931.73,1047.00 932.65,1047.00 933.56,1047.00 934.47,1047.00 935.38,1047.00 936.29,1047.00 937.20,1047.00 938.11,1047.00 939.02,1047.00 939.93,1047.00 940.84,1047.00 941.76,1047.00 942.67,1047.00 943.58,1047.00 944.49,1047.00 945.40,1047.00 946.31,1047.00 947.22,1047.00 948.13,1047.00 949.04,1047.00 949.96,1047.00 950.87,1047.00 951.78,1047.00 952.69,1047.00 953.60,1047.00 954.51,1047.00 955.42,1047.00 956.33,1047.00 957.24,1047.00 958.15,1047.00 959.07,1047.00 959.98,1047.00 960.89,1047.00 961.80,1047.00 962.71,1047.00 963.62,1047.00 964.53,1047.00 965.44,1047.00 966.35,1047.00 967.26,1047.00 968.18,1047.00 969.09,1047.00 970.00,1047.00 970.91,1047.00 971.82,1047.00 972.73,1047.00 973.64,1047.00 974.55,1047.00 975.46,1047.00 976.37,1047.00 977.29,1047.00 978.20,1047.00 979.11,1047.00 980.02,1047.00 980.93,1047.00 981.84,1047.00 982.75,1047.00 983.66,1047.00 984.57,1047.00 985.48,1047.00 986.40,1047.00 987.31,1047.00 988.22,1047.00 989.13,1047.00 990.04,1047.00 990.95,1047.00 991.86,1047.00 992.77,1047.00 993.68,1047.00 994.59,1047.00 995.51,1047.00 996.42,1047.00 997.33,1047.00 998.24,1047.00 999.15,1047.00 1000.06,1047.00 1000.97,1047.00 1001.88,1047.00 1002.79,1047.00 1003.70,1047.00 1004.62,1047.00 1005.53,1047.00 1006.44,1047.00 1007.35,1046.99 1008.26,1046.99 1009.17,1046.99 1010.08,1046.98 1010.99,1046.97 1011.90,1046.95 1012.82,1046.92 1013.73,1046.89 1014.64,1046.84 1015.55,1046.77 1016.46,1046.67 1017.37,1046.54 1018.28,1046.37 1019.19,1046.15 1020.10,1045.87 1021.01,1045.52 1021.93,1045.09 1022.84,1044.57 1023.75,1043.96 1024.66,1043.26 1025.57,1042.46 1026.48,1041.58 1027.39,1040.63 1028.30,1039.63 1029.21,1038.60 1030.12,1037.56 1031.04,1036.57 1031.95,1035.65 1032.86,1034.83 1033.77,1034.15 1034.68,1033.64 1035.59,1033.33 1036.50,1033.22 1037.41,1033.32 1038.32,1033.63 1039.23,1034.13 1040.15,1034.81 1041.06,1035.62 1041.97,1036.54 1042.88,1037.53 1043.79,1038.56 1044.70,1039.60 1045.61,1040.60 1046.52,1041.56 1047.43,1042.44 1048.34,1043.24 1049.26,1043.94 1050.17,1044.55 1051.08,1045.07 1051.99,1045.50 1052.90,1045.86 1053.81,1046.14 1054.72,1046.36 1055.63,1046.54 1056.54,1046.67 1057.45,1046.76 1058.37,1046.84 1059.28,1046.89 1060.19,1046.92 1061.10,1046.95 1062.01,1046.97 1062.92,1046.98 1063.83,1046.99 1064.74,1046.99 1065.65,1046.99 1066.56,1047.00 1067.48,1047.00 1068.39,1047.00 1069.30,1047.00 1070.21,1047.00 1071.12,1047.00 1072.03,1047.00 1072.94,1047.00 1073.85,1047.00 1074.76,1047.00 1075.67,1047.00" fill="none" stroke="#10f0f8" stroke-width="2.8" stroke-linejoin="round"/>
<polyline points="794.21,1045.76 795.16,1045.50 796.12,1045.20 797.07,1044.84 798.02,1044.43 798.97,1043.94 799.92,1043.37 800.88,1042.70 801.83,1041.94 802.78,1041.06 803.73,1040.05 804.68,1038.89 805.63,1037.58 806.59,1036.09 807.54,1034.40 808.49,1032.51 809.44,1030.38 810.39,1028.01 811.35,1025.38 812.30,1022.46 813.25,1019.24 814.20,1015.71 815.15,1011.84 816.10,1007.63 817.06,1003.07 818.01,998.14 818.96,992.85 819.91,987.18 820.86,981.15 821.81,974.75 822.77,968.00 823.72,960.91 824.67,953.50 825.62,945.79 826.57,937.82 827.53,929.62 828.48,921.23 829.43,912.69 830.38,904.05 831.33,895.37 832.28,886.71 833.24,878.11 834.19,869.66 835.14,861.40 836.09,853.41 837.04,845.75 838.00,838.48 838.95,831.67 839.90,825.37 840.85,819.64 841.80,814.53 842.75,810.09 843.71,806.36 844.66,803.36 845.61,801.12 846.56,799.66 847.51,798.99 848.47,799.10 849.42,800.00 850.37,801.65 851.32,804.05 852.27,807.14 853.22,810.91 854.18,815.30 855.13,820.25 856.08,825.72 857.03,831.65 857.98,837.96 858.94,844.59 859.89,851.48 860.84,858.56 861.79,865.77 862.74,873.03 863.69,880.28 864.65,887.47 865.60,894.54 866.55,901.43 867.50,908.10 868.45,914.51 869.41,920.62 870.36,926.39 871.31,931.80 872.26,936.82 873.21,941.45 874.16,945.67 875.12,949.48 876.07,952.87 877.02,955.84 877.97,958.40 878.92,960.57 879.88,962.34 880.83,963.75 881.78,964.80 882.73,965.52 883.68,965.92 884.63,966.03 885.59,965.87 886.54,965.46 887.49,964.83 888.44,963.99 889.39,962.97 890.34,961.80 891.30,960.49 892.25,959.06 893.20,957.53 894.15,955.93 895.10,954.27 896.06,952.57 897.01,950.85 897.96,949.11 898.91,947.38 899.86,945.66 900.81,943.98 901.77,942.33 902.72,940.74 903.67,939.22 904.62,937.76 905.57,936.39 906.53,935.10 907.48,933.91 908.43,932.81 909.38,931.83 910.33,930.96 911.28,930.20 912.24,929.56 913.19,929.05 914.14,928.66 915.09,928.40 916.04,928.27 917.00,928.27 917.95,928.39 918.90,928.65 919.85,929.04 920.80,929.56 921.75,930.20 922.71,930.97 923.66,931.86 924.61,932.87 925.56,934.00 926.51,935.24 927.47,936.58 928.42,938.04 929.37,939.59 930.32,941.24 931.27,942.98 932.22,944.80 933.18,946.70 934.13,948.68 935.08,950.72 936.03,952.83 936.98,954.99 937.94,957.20 938.89,959.45 939.84,961.74 940.79,964.06 941.74,966.40 942.69,968.77 943.65,971.14 944.60,973.53 945.55,975.91 946.50,978.29 947.45,980.66 948.40,983.01 949.36,985.35 950.31,987.66 951.26,989.93 952.21,992.18 953.16,994.38 954.12,996.54 955.07,998.66 956.02,1000.72 956.97,1002.73 957.92,1004.69 958.87,1006.58 959.83,1008.41 960.78,1010.18 961.73,1011.88 962.68,1013.51 963.63,1015.06 964.59,1016.55 965.54,1017.96 966.49,1019.30 967.44,1020.56 968.39,1021.74 969.34,1022.85 970.30,1023.87 971.25,1024.82 972.20,1025.69 973.15,1026.49 974.10,1027.20 975.06,1027.84 976.01,1028.40 976.96,1028.89 977.91,1029.31 978.86,1029.65 979.81,1029.92 980.77,1030.13 981.72,1030.26 982.67,1030.33 983.62,1030.35 984.57,1030.30 985.53,1030.20 986.48,1030.04 987.43,1029.83 988.38,1029.58 989.33,1029.29 990.28,1028.96 991.24,1028.60 992.19,1028.21 993.14,1027.79 994.09,1027.35 995.04,1026.90 996.00,1026.44 996.95,1025.97 997.90,1025.50 998.85,1025.03 999.80,1024.57 1000.75,1024.12 1001.71,1023.69 1002.66,1023.29 1003.61,1022.90 1004.56,1022.55 1005.51,1022.22 1006.47,1021.94 1007.42,1021.69 1008.37,1021.48 1009.32,1021.32 1010.27,1021.19 1011.22,1021.12 1012.18,1021.08 1013.13,1021.08 1014.08,1021.13 1015.03,1021.20 1015.98,1021.30 1016.93,1021.42 1017.89,1021.55 1018.84,1021.68 1019.79,1021.79 1020.74,1021.87 1021.69,1021.91 1022.65,1021.89 1023.60,1021.82 1024.55,1021.67 1025.50,1021.45 1026.45,1021.17 1027.40,1020.83 1028.36,1020.45 1029.31,1020.06 1030.26,1019.69 1031.21,1019.38 1032.16,1019.15 1033.12,1019.06 1034.07,1019.13 1035.02,1019.38 1035.97,1019.85 1036.92,1020.54 1037.87,1021.45 1038.83,1022.56 1039.78,1023.86 1040.73,1025.31 1041.68,1026.86 1042.63,1028.49 1043.59,1030.15 1044.54,1031.80 1045.49,1033.39 1046.44,1034.91 1047.39,1036.33 1048.34,1037.63 1049.30,1038.81 1050.25,1039.86 1051.20,1040.79 1052.15,1041.60 1053.10,1042.29 1054.06,1042.90 1055.01,1043.41 1055.96,1043.86 1056.91,1044.24 1057.86,1044.57 1058.81,1044.85 1059.77,1045.10 1060.72,1045.32 1061.67,1045.51 1062.62,1045.68 1063.57,1045.83 1064.53,1045.96 1065.48,1046.08 1066.43,1046.19 1067.38,1046.28 1068.33,1046.37 1069.28,1046.45 1070.24,1046.51 1071.19,1046.57 1072.14,1046.63 1073.09,1046.68 1074.04,1046.72 1075.00,1046.75 1075.95,1046.79 1076.90,1046.82 1077.85,1046.84 1078.80,1046.86 1079.75,1046.88" fill="none" stroke="#000" stroke-width="2.7" stroke-linejoin="round"/>
<path d="M848.40 781V866 M914.50 781V942" stroke="#1414f0" stroke-width="2.8" stroke-dasharray="9 5" fill="none"/>
<text x="984.3" y="1108.4" font-size="30" text-anchor="middle">z (nm)</text>
<text transform="translate(691.5 905) rotate(-90)" font-size="30" text-anchor="middle">Counts (a.u.)</text>
<path d="M868 795.7H895" stroke="#000" stroke-width="4.5"/>
<path d="M849.4 795.7 L871 783 L871 808.4Z M913.5 795.7 L892 783 L892 808.4Z" fill="#000"/>
<text x="918" y="808.4" font-size="33" letter-spacing="0.1">0.81nm</text>
<path d="M812.4 793.2 L831.9 812.7 L812.4 832.2 L792.9 812.7Z" fill="none" stroke="#14f014" stroke-width="4.8"/>
<text x="898.5" y="888.5" font-size="40">α=β</text>
<rect x="925.8" y="895.3" width="25.4" height="26.6" fill="none" stroke="#00e8f8" stroke-width="5.2"/>
<circle cx="1021" cy="996" r="13.2" fill="none" stroke="#ff0a0a" stroke-width="4.8"/>
<rect x="1690.06" y="50.60" width="194.37" height="326.60" fill="#fce4f7"/>
<g clip-path="url(#cg)"><rect x="1458.50" y="113.63" width="9.60" height="9.60" fill="none" stroke="#000" stroke-width="4.0"/><rect x="1490.89" y="112.63" width="9.60" height="9.60" fill="none" stroke="#000" stroke-width="4.0"/><rect x="1523.29" y="109.61" width="9.60" height="9.60" fill="none" stroke="#000" stroke-width="4.0"/><rect x="1555.68" y="109.61" width="9.60" height="9.60" fill="none" stroke="#000" stroke-width="4.0"/><rect x="1588.08" y="106.10" width="9.60" height="9.60" fill="none" stroke="#000" stroke-width="4.0"/><rect x="1620.47" y="111.12" width="9.60" height="9.60" fill="none" stroke="#000" stroke-width="4.0"/><rect x="1652.87" y="111.12" width="9.60" height="9.60" fill="none" stroke="#000" stroke-width="4.0"/><rect x="1685.26" y="114.64" width="9.60" height="9.60" fill="none" stroke="#000" stroke-width="4.0"/><rect x="1717.66" y="232.21" width="9.60" height="9.60" fill="none" stroke="#000" stroke-width="4.0"/><rect x="1750.05" y="288.99" width="9.60" height="9.60" fill="none" stroke="#000" stroke-width="4.0"/><rect x="1782.44" y="290.50" width="9.60" height="9.60" fill="none" stroke="#000" stroke-width="4.0"/><rect x="1814.84" y="292.01" width="9.60" height="9.60" fill="none" stroke="#000" stroke-width="4.0"/><rect x="1847.23" y="294.52" width="9.60" height="9.60" fill="none" stroke="#000" stroke-width="4.0"/><rect x="1879.63" y="292.01" width="9.60" height="9.60" fill="none" stroke="#000" stroke-width="4.0"/><rect x="1912.02" y="182.97" width="9.60" height="9.60" fill="none" stroke="#000" stroke-width="4.0"/><rect x="1944.42" y="127.20" width="9.60" height="9.60" fill="none" stroke="#000" stroke-width="4.0"/><rect x="1976.81" y="109.61" width="9.60" height="9.60" fill="none" stroke="#000" stroke-width="4.0"/><rect x="2009.21" y="103.08" width="9.60" height="9.60" fill="none" stroke="#000" stroke-width="4.0"/><rect x="1458.50" y="263.37" width="9.60" height="9.60" fill="none" stroke="#ff0808" stroke-width="4.0"/><rect x="1490.89" y="264.37" width="9.60" height="9.60" fill="none" stroke="#ff0808" stroke-width="4.0"/><rect x="1523.29" y="265.38" width="9.60" height="9.60" fill="none" stroke="#ff0808" stroke-width="4.0"/><rect x="1555.68" y="263.37" width="9.60" height="9.60" fill="none" stroke="#ff0808" stroke-width="4.0"/><rect x="1588.08" y="260.35" width="9.60" height="9.60" fill="none" stroke="#ff0808" stroke-width="4.0"/><rect x="1620.47" y="264.37" width="9.60" height="9.60" fill="none" stroke="#ff0808" stroke-width="4.0"/><rect x="1652.87" y="260.85" width="9.60" height="9.60" fill="none" stroke="#ff0808" stroke-width="4.0"/><rect x="1685.26" y="261.86" width="9.60" height="9.60" fill="none" stroke="#ff0808" stroke-width="4.0"/><rect x="1717.66" y="313.61" width="9.60" height="9.60" fill="none" stroke="#ff0808" stroke-width="4.0"/><rect x="1750.05" y="334.72" width="9.60" height="9.60" fill="none" stroke="#ff0808" stroke-width="4.0"/><rect x="1782.44" y="337.23" width="9.60" height="9.60" fill="none" stroke="#ff0808" stroke-width="4.0"/><rect x="1814.84" y="333.71" width="9.60" height="9.60" fill="none" stroke="#ff0808" stroke-width="4.0"/><rect x="1847.23" y="333.71" width="9.60" height="9.60" fill="none" stroke="#ff0808" stroke-width="4.0"/><rect x="1879.63" y="333.71" width="9.60" height="9.60" fill="none" stroke="#ff0808" stroke-width="4.0"/><rect x="1912.02" y="293.01" width="9.60" height="9.60" fill="none" stroke="#ff0808" stroke-width="4.0"/><rect x="1944.42" y="271.41" width="9.60" height="9.60" fill="none" stroke="#ff0808" stroke-width="4.0"/><rect x="1976.81" y="260.35" width="9.60" height="9.60" fill="none" stroke="#ff0808" stroke-width="4.0"/><rect x="2009.21" y="259.35" width="9.60" height="9.60" fill="none" stroke="#ff0808" stroke-width="4.0"/></g>
<rect x="1463.30" y="50.60" width="583.10" height="326.60" fill="none" stroke="#000" stroke-width="3.5"/>
<path d="M1463.30 377.20v9.00M1463.30 50.60v9.00M1528.09 377.20v9.00M1528.09 50.60v9.00M1592.88 377.20v9.00M1592.88 50.60v9.00M1657.67 377.20v9.00M1657.67 50.60v9.00M1722.46 377.20v9.00M1722.46 50.60v9.00M1787.24 377.20v9.00M1787.24 50.60v9.00M1852.03 377.20v9.00M1852.03 50.60v9.00M1916.82 377.20v9.00M1916.82 50.60v9.00M1981.61 377.20v9.00M1981.61 50.60v9.00M2046.40 377.20v9.00M2046.40 50.60v9.00M1495.69 377.20v5.50M1495.69 50.60v5.50M1560.48 377.20v5.50M1560.48 50.60v5.50M1625.27 377.20v5.50M1625.27 50.60v5.50M1690.06 377.20v5.50M1690.06 50.60v5.50M1754.85 377.20v5.50M1754.85 50.60v5.50M1819.64 377.20v5.50M1819.64 50.60v5.50M1884.43 377.20v5.50M1884.43 50.60v5.50M1949.22 377.20v5.50M1949.22 50.60v5.50M2014.01 377.20v5.50M2014.01 50.60v5.50" stroke="#000" stroke-width="3" fill="none"/>
<text x="1463.30" y="408.30" font-size="24" text-anchor="middle">0</text>
<text x="1528.09" y="408.30" font-size="24" text-anchor="middle">20</text>
<text x="1592.88" y="408.30" font-size="24" text-anchor="middle">40</text>
<text x="1657.67" y="408.30" font-size="24" text-anchor="middle">60</text>
<text x="1722.46" y="408.30" font-size="24" text-anchor="middle">80</text>
<text x="1787.24" y="408.30" font-size="24" text-anchor="middle">100</text>
<text x="1852.03" y="408.30" font-size="24" text-anchor="middle">120</text>
<text x="1916.82" y="408.30" font-size="24" text-anchor="middle">140</text>
<text x="1981.61" y="408.30" font-size="24" text-anchor="middle">160</text>
<text x="2046.40" y="408.30" font-size="24" text-anchor="middle">180</text>
<path d="M1463.30 50.60h-9.00M2046.40 50.60h-9.00M1463.30 151.09h-9.00M2046.40 151.09h-9.00M1463.30 251.58h-9.00M2046.40 251.58h-9.00M1463.30 352.08h-9.00M2046.40 352.08h-9.00M1463.30 100.85h-5.50M2046.40 100.85h-5.50M1463.30 201.34h-5.50M2046.40 201.34h-5.50M1463.30 301.83h-5.50M2046.40 301.83h-5.50" stroke="#000" stroke-width="3" fill="none"/>
<text x="1450.50" y="57.70" font-size="24" text-anchor="end">-82</text>
<text x="1450.50" y="158.19" font-size="24" text-anchor="end">-84</text>
<text x="1450.50" y="258.68" font-size="24" text-anchor="end">-86</text>
<text x="1450.50" y="359.18" font-size="24" text-anchor="end">-88</text>
<text x="1750.7" y="435" font-size="30" text-anchor="middle">t (ms)</text>
<text transform="translate(1381 202.2) rotate(-90)" font-size="30" text-anchor="middle">z (nm)</text>
<text x="1487" y="90.8" font-size="30">Active V<tspan dy="9.4">mod</tspan></text>
<text x="1725" y="90.3" font-size="30.5">V<tspan dy="9.5">mod</tspan><tspan dy="-9.5">=0</tspan></text>
<text x="2003.5" y="90.5" font-size="29">1</text>
<text x="2005.5" y="247.4" font-size="29">2</text>
<text x="1501.5" y="201.1" font-size="30">3nm</text>
<path d="M1579 134V246" stroke="#000" stroke-width="5"/>
<path d="M1579 113.7 L1565.7 136.2 L1592.3 136.2Z M1579 265.7 L1565.7 243.2 L1592.3 243.2Z" fill="#000"/>
<text x="1771" y="275.5" font-size="29.7">0.9nm</text>
<path d="M1800.5 312V324" stroke="#000" stroke-width="5"/>
<path d="M1800.5 291.7 L1787 314.3 L1814 314.3Z M1800.5 343.9 L1787 321.3 L1814 321.3Z" fill="#000"/>
<rect x="1625.27" y="480.30" width="291.55" height="327.50" fill="#e4fce4"/>
<g clip-path="url(#cg)"><rect x="1458.50" y="652.95" width="9.60" height="9.60" fill="none" stroke="#000" stroke-width="4.0"/><rect x="1490.89" y="644.91" width="9.60" height="9.60" fill="none" stroke="#000" stroke-width="4.0"/><rect x="1523.29" y="603.52" width="9.60" height="9.60" fill="none" stroke="#000" stroke-width="4.0"/><rect x="1555.68" y="674.38" width="9.60" height="9.60" fill="none" stroke="#000" stroke-width="4.0"/><rect x="1588.08" y="648.48" width="9.60" height="9.60" fill="none" stroke="#000" stroke-width="4.0"/><rect x="1620.47" y="622.88" width="9.60" height="9.60" fill="none" stroke="#000" stroke-width="4.0"/><rect x="1652.87" y="631.21" width="9.60" height="9.60" fill="none" stroke="#000" stroke-width="4.0"/><rect x="1685.26" y="631.21" width="9.60" height="9.60" fill="none" stroke="#000" stroke-width="4.0"/><rect x="1717.66" y="631.21" width="9.60" height="9.60" fill="none" stroke="#000" stroke-width="4.0"/><rect x="1750.05" y="631.21" width="9.60" height="9.60" fill="none" stroke="#000" stroke-width="4.0"/><rect x="1782.44" y="631.21" width="9.60" height="9.60" fill="none" stroke="#000" stroke-width="4.0"/><rect x="1814.84" y="631.21" width="9.60" height="9.60" fill="none" stroke="#000" stroke-width="4.0"/><rect x="1847.23" y="631.21" width="9.60" height="9.60" fill="none" stroke="#000" stroke-width="4.0"/><rect x="1879.63" y="631.21" width="9.60" height="9.60" fill="none" stroke="#000" stroke-width="4.0"/><rect x="1912.02" y="631.21" width="9.60" height="9.60" fill="none" stroke="#000" stroke-width="4.0"/><rect x="1944.42" y="607.39" width="9.60" height="9.60" fill="none" stroke="#000" stroke-width="4.0"/><rect x="1976.81" y="571.07" width="9.60" height="9.60" fill="none" stroke="#000" stroke-width="4.0"/><rect x="2009.21" y="640.74" width="9.60" height="9.60" fill="none" stroke="#000" stroke-width="4.0"/></g>
<rect x="1463.30" y="480.30" width="583.10" height="327.50" fill="none" stroke="#000" stroke-width="3.5"/>
<path d="M1463.30 807.80v9.00M1463.30 480.30v9.00M1528.09 807.80v9.00M1528.09 480.30v9.00M1592.88 807.80v9.00M1592.88 480.30v9.00M1657.67 807.80v9.00M1657.67 480.30v9.00M1722.46 807.80v9.00M1722.46 480.30v9.00M1787.24 807.80v9.00M1787.24 480.30v9.00M1852.03 807.80v9.00M1852.03 480.30v9.00M1916.82 807.80v9.00M1916.82 480.30v9.00M1981.61 807.80v9.00M1981.61 480.30v9.00M2046.40 807.80v9.00M2046.40 480.30v9.00M1495.69 807.80v5.50M1495.69 480.30v5.50M1560.48 807.80v5.50M1560.48 480.30v5.50M1625.27 807.80v5.50M1625.27 480.30v5.50M1690.06 807.80v5.50M1690.06 480.30v5.50M1754.85 807.80v5.50M1754.85 480.30v5.50M1819.64 807.80v5.50M1819.64 480.30v5.50M1884.43 807.80v5.50M1884.43 480.30v5.50M1949.22 807.80v5.50M1949.22 480.30v5.50M2014.01 807.80v5.50M2014.01 480.30v5.50" stroke="#000" stroke-width="3" fill="none"/>
<text x="1463.30" y="839.00" font-size="24" text-anchor="middle">0</text>
<text x="1528.09" y="839.00" font-size="24" text-anchor="middle">20</text>
<text x="1592.88" y="839.00" font-size="24" text-anchor="middle">40</text>
<text x="1657.67" y="839.00" font-size="24" text-anchor="middle">60</text>
<text x="1722.46" y="839.00" font-size="24" text-anchor="middle">80</text>
<text x="1787.24" y="839.00" font-size="24" text-anchor="middle">100</text>
<text x="1852.03" y="839.00" font-size="24" text-anchor="middle">120</text>
<text x="1916.82" y="839.00" font-size="24" text-anchor="middle">140</text>
<text x="1981.61" y="839.00" font-size="24" text-anchor="middle">160</text>
<text x="2046.40" y="839.00" font-size="24" text-anchor="middle">180</text>
<path d="M1463.30 480.30h-9.00M2046.40 480.30h-9.00M1463.30 539.85h-9.00M2046.40 539.85h-9.00M1463.30 599.39h-9.00M2046.40 599.39h-9.00M1463.30 658.94h-9.00M2046.40 658.94h-9.00M1463.30 718.48h-9.00M2046.40 718.48h-9.00M1463.30 778.03h-9.00M2046.40 778.03h-9.00M1463.30 510.07h-5.50M2046.40 510.07h-5.50M1463.30 569.62h-5.50M2046.40 569.62h-5.50M1463.30 629.16h-5.50M2046.40 629.16h-5.50M1463.30 688.71h-5.50M2046.40 688.71h-5.50M1463.30 748.25h-5.50M2046.40 748.25h-5.50M1463.30 807.80h-5.50M2046.40 807.80h-5.50" stroke="#000" stroke-width="3" fill="none"/>
<text x="1450.50" y="487.40" font-size="24" text-anchor="end">-740</text>
<text x="1450.50" y="546.95" font-size="24" text-anchor="end">-760</text>
<text x="1450.50" y="606.49" font-size="24" text-anchor="end">-780</text>
<text x="1450.50" y="666.04" font-size="24" text-anchor="end">-800</text>
<text x="1450.50" y="725.58" font-size="24" text-anchor="end">-820</text>
<text x="1450.50" y="785.13" font-size="24" text-anchor="end">-840</text>
<text x="1748.7" y="866" font-size="30" text-anchor="middle">t (ms)</text>
<text transform="translate(1381 635) rotate(-90)" font-size="30" text-anchor="middle">Tip bias (mV)</text>
<text x="1496" y="524.5" font-size="29">Sample</text>
<text x="1731.5" y="530.4" font-size="29">Hold</text>
</svg></body></html>
